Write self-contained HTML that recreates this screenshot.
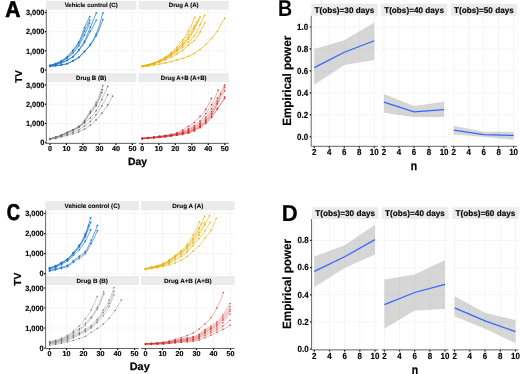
<!DOCTYPE html>
<html><head><meta charset="utf-8"><style>
html,body{margin:0;padding:0;background:#fff;}
body{width:520px;height:374px;overflow:hidden;}
svg{display:block;font-family:"Liberation Sans", sans-serif;filter:blur(0.35px);text-rendering:geometricPrecision;}
</style></head><body>
<svg width="520" height="374" viewBox="0 0 520 374">
<rect x="0" y="0" width="520" height="374" fill="#fff"/>
<rect x="46.00" y="0.80" width="90.40" height="8.90" fill="#EBEBEB"/>
<text x="91.20" y="7.40" font-size="6.05" text-anchor="middle" fill="#000" font-weight="bold" stroke="#000" stroke-width="0.08" >Vehicle control (C)</text>
<rect x="138.60" y="0.80" width="90.20" height="8.90" fill="#EBEBEB"/>
<text x="183.70" y="7.40" font-size="6.05" text-anchor="middle" fill="#000" font-weight="bold" stroke="#000" stroke-width="0.08" >Drug A (A)</text>
<rect x="46.00" y="73.20" width="90.40" height="8.90" fill="#EBEBEB"/>
<text x="91.20" y="79.80" font-size="6.05" text-anchor="middle" fill="#000" font-weight="bold" stroke="#000" stroke-width="0.08" >Drug B (B)</text>
<rect x="138.60" y="73.20" width="90.20" height="8.90" fill="#EBEBEB"/>
<text x="183.70" y="79.80" font-size="6.05" text-anchor="middle" fill="#000" font-weight="bold" stroke="#000" stroke-width="0.08" >Drug A+B (A+B)</text>
<line x1="49.90" y1="9.40" x2="49.90" y2="71.00" stroke="#F3F3F3" stroke-width="0.8"/>
<line x1="66.40" y1="9.40" x2="66.40" y2="71.00" stroke="#F3F3F3" stroke-width="0.8"/>
<line x1="82.90" y1="9.40" x2="82.90" y2="71.00" stroke="#F3F3F3" stroke-width="0.8"/>
<line x1="99.40" y1="9.40" x2="99.40" y2="71.00" stroke="#F3F3F3" stroke-width="0.8"/>
<line x1="115.90" y1="9.40" x2="115.90" y2="71.00" stroke="#F3F3F3" stroke-width="0.8"/>
<line x1="132.40" y1="9.40" x2="132.40" y2="71.00" stroke="#F3F3F3" stroke-width="0.8"/>
<line x1="46.00" y1="70.00" x2="136.40" y2="70.00" stroke="#F3F3F3" stroke-width="0.8"/>
<line x1="46.00" y1="50.83" x2="136.40" y2="50.83" stroke="#F3F3F3" stroke-width="0.8"/>
<line x1="46.00" y1="31.67" x2="136.40" y2="31.67" stroke="#F3F3F3" stroke-width="0.8"/>
<line x1="46.00" y1="12.50" x2="136.40" y2="12.50" stroke="#F3F3F3" stroke-width="0.8"/>
<line x1="142.30" y1="9.40" x2="142.30" y2="71.00" stroke="#F3F3F3" stroke-width="0.8"/>
<line x1="158.80" y1="9.40" x2="158.80" y2="71.00" stroke="#F3F3F3" stroke-width="0.8"/>
<line x1="175.30" y1="9.40" x2="175.30" y2="71.00" stroke="#F3F3F3" stroke-width="0.8"/>
<line x1="191.80" y1="9.40" x2="191.80" y2="71.00" stroke="#F3F3F3" stroke-width="0.8"/>
<line x1="208.30" y1="9.40" x2="208.30" y2="71.00" stroke="#F3F3F3" stroke-width="0.8"/>
<line x1="224.80" y1="9.40" x2="224.80" y2="71.00" stroke="#F3F3F3" stroke-width="0.8"/>
<line x1="138.60" y1="70.00" x2="228.80" y2="70.00" stroke="#F3F3F3" stroke-width="0.8"/>
<line x1="138.60" y1="50.83" x2="228.80" y2="50.83" stroke="#F3F3F3" stroke-width="0.8"/>
<line x1="138.60" y1="31.67" x2="228.80" y2="31.67" stroke="#F3F3F3" stroke-width="0.8"/>
<line x1="138.60" y1="12.50" x2="228.80" y2="12.50" stroke="#F3F3F3" stroke-width="0.8"/>
<line x1="49.90" y1="81.50" x2="49.90" y2="143.00" stroke="#F3F3F3" stroke-width="0.8"/>
<line x1="66.40" y1="81.50" x2="66.40" y2="143.00" stroke="#F3F3F3" stroke-width="0.8"/>
<line x1="82.90" y1="81.50" x2="82.90" y2="143.00" stroke="#F3F3F3" stroke-width="0.8"/>
<line x1="99.40" y1="81.50" x2="99.40" y2="143.00" stroke="#F3F3F3" stroke-width="0.8"/>
<line x1="115.90" y1="81.50" x2="115.90" y2="143.00" stroke="#F3F3F3" stroke-width="0.8"/>
<line x1="132.40" y1="81.50" x2="132.40" y2="143.00" stroke="#F3F3F3" stroke-width="0.8"/>
<line x1="46.00" y1="142.70" x2="136.40" y2="142.70" stroke="#F3F3F3" stroke-width="0.8"/>
<line x1="46.00" y1="123.47" x2="136.40" y2="123.47" stroke="#F3F3F3" stroke-width="0.8"/>
<line x1="46.00" y1="104.23" x2="136.40" y2="104.23" stroke="#F3F3F3" stroke-width="0.8"/>
<line x1="46.00" y1="85.00" x2="136.40" y2="85.00" stroke="#F3F3F3" stroke-width="0.8"/>
<line x1="142.30" y1="81.50" x2="142.30" y2="143.00" stroke="#F3F3F3" stroke-width="0.8"/>
<line x1="158.80" y1="81.50" x2="158.80" y2="143.00" stroke="#F3F3F3" stroke-width="0.8"/>
<line x1="175.30" y1="81.50" x2="175.30" y2="143.00" stroke="#F3F3F3" stroke-width="0.8"/>
<line x1="191.80" y1="81.50" x2="191.80" y2="143.00" stroke="#F3F3F3" stroke-width="0.8"/>
<line x1="208.30" y1="81.50" x2="208.30" y2="143.00" stroke="#F3F3F3" stroke-width="0.8"/>
<line x1="224.80" y1="81.50" x2="224.80" y2="143.00" stroke="#F3F3F3" stroke-width="0.8"/>
<line x1="138.60" y1="142.70" x2="228.80" y2="142.70" stroke="#F3F3F3" stroke-width="0.8"/>
<line x1="138.60" y1="123.47" x2="228.80" y2="123.47" stroke="#F3F3F3" stroke-width="0.8"/>
<line x1="138.60" y1="104.23" x2="228.80" y2="104.23" stroke="#F3F3F3" stroke-width="0.8"/>
<line x1="138.60" y1="85.00" x2="228.80" y2="85.00" stroke="#F3F3F3" stroke-width="0.8"/>
<polyline points="49.9,65.5 51.5,65.0 53.2,64.5 54.8,63.8 56.5,63.2 58.1,62.4 59.8,61.6 61.4,60.7 63.1,59.6 64.8,58.5 66.4,57.2 68.0,55.7 69.7,54.0 71.3,52.2 73.0,50.1 74.7,48.0 76.3,45.8 77.9,43.3 79.6,40.4 81.2,36.7 82.9,32.1 84.5,27.6 86.2,23.9 87.8,20.5 89.5,17.0 89.7,16.6" fill="none" stroke="#1874CD" stroke-width="0.9" stroke-opacity="0.8"/>
<circle cx="49.9" cy="65.5" r="0.85" fill="#1874CD" fill-opacity="0.9"/>
<circle cx="55.7" cy="63.5" r="0.85" fill="#1874CD" fill-opacity="0.9"/>
<circle cx="61.4" cy="60.7" r="0.85" fill="#1874CD" fill-opacity="0.9"/>
<circle cx="67.2" cy="56.5" r="0.85" fill="#1874CD" fill-opacity="0.9"/>
<circle cx="73.0" cy="50.1" r="0.85" fill="#1874CD" fill-opacity="0.9"/>
<circle cx="78.8" cy="41.9" r="0.85" fill="#1874CD" fill-opacity="0.9"/>
<circle cx="84.5" cy="27.6" r="0.85" fill="#1874CD" fill-opacity="0.9"/>
<circle cx="89.7" cy="16.6" r="0.85" fill="#1874CD" fill-opacity="0.9"/>
<polyline points="49.9,65.9 51.5,65.4 53.2,64.9 54.8,64.3 56.5,63.7 58.1,63.0 59.8,62.2 61.4,61.3 63.1,60.3 64.8,59.2 66.4,58.0 68.0,56.6 69.7,55.0 71.3,53.2 73.0,51.2 74.7,49.2 76.3,47.0 77.9,44.6 79.6,41.9 81.2,38.7 82.9,34.9 84.5,31.1 86.2,27.6 87.8,24.2 89.5,20.6 89.7,20.2" fill="none" stroke="#1874CD" stroke-width="0.9" stroke-opacity="0.8"/>
<circle cx="49.9" cy="65.9" r="0.85" fill="#1874CD" fill-opacity="0.9"/>
<circle cx="55.7" cy="64.0" r="0.85" fill="#1874CD" fill-opacity="0.9"/>
<circle cx="61.4" cy="61.3" r="0.85" fill="#1874CD" fill-opacity="0.9"/>
<circle cx="67.2" cy="57.3" r="0.85" fill="#1874CD" fill-opacity="0.9"/>
<circle cx="73.0" cy="51.2" r="0.85" fill="#1874CD" fill-opacity="0.9"/>
<circle cx="78.8" cy="43.3" r="0.85" fill="#1874CD" fill-opacity="0.9"/>
<circle cx="84.5" cy="31.1" r="0.85" fill="#1874CD" fill-opacity="0.9"/>
<circle cx="89.7" cy="20.2" r="0.85" fill="#1874CD" fill-opacity="0.9"/>
<polyline points="49.9,65.7 51.5,65.3 53.2,65.0 54.8,64.5 56.5,64.1 58.1,63.6 59.8,63.1 61.4,62.6 63.1,61.9 64.8,61.2 66.4,60.5 68.0,59.6 69.7,58.6 71.3,57.6 73.0,56.3 74.7,54.8 76.3,52.9 77.9,50.8 79.6,48.5 81.2,46.3 82.9,43.9 84.5,41.2 86.2,37.7 87.8,33.5 89.5,29.2 91.2,25.3 92.8,21.5 94.4,17.6 96.1,13.4 96.3,12.9" fill="none" stroke="#1874CD" stroke-width="0.9" stroke-opacity="0.8"/>
<circle cx="49.9" cy="65.7" r="0.85" fill="#1874CD" fill-opacity="0.9"/>
<circle cx="55.7" cy="64.3" r="0.85" fill="#1874CD" fill-opacity="0.9"/>
<circle cx="61.4" cy="62.6" r="0.85" fill="#1874CD" fill-opacity="0.9"/>
<circle cx="67.2" cy="60.0" r="0.85" fill="#1874CD" fill-opacity="0.9"/>
<circle cx="73.0" cy="56.3" r="0.85" fill="#1874CD" fill-opacity="0.9"/>
<circle cx="78.8" cy="49.7" r="0.85" fill="#1874CD" fill-opacity="0.9"/>
<circle cx="84.5" cy="41.2" r="0.85" fill="#1874CD" fill-opacity="0.9"/>
<circle cx="90.3" cy="27.2" r="0.85" fill="#1874CD" fill-opacity="0.9"/>
<circle cx="96.3" cy="12.9" r="0.85" fill="#1874CD" fill-opacity="0.9"/>
<polyline points="49.9,66.1 51.5,65.7 53.2,65.4 54.8,65.0 56.5,64.5 58.1,64.1 59.8,63.6 61.4,63.0 63.1,62.4 64.8,61.7 66.4,61.0 68.0,60.1 69.7,59.2 71.3,58.1 73.0,56.9 74.7,55.4 76.3,53.6 77.9,51.6 79.6,49.5 81.2,47.3 82.9,45.0 84.5,42.5 86.2,39.5 87.8,36.3 89.5,32.9 91.2,29.9 92.8,26.9 94.4,23.8 96.1,20.5 96.3,20.1" fill="none" stroke="#1874CD" stroke-width="0.9" stroke-opacity="0.8"/>
<circle cx="49.9" cy="66.1" r="0.85" fill="#1874CD" fill-opacity="0.9"/>
<circle cx="55.7" cy="64.8" r="0.85" fill="#1874CD" fill-opacity="0.9"/>
<circle cx="61.4" cy="63.0" r="0.85" fill="#1874CD" fill-opacity="0.9"/>
<circle cx="67.2" cy="60.5" r="0.85" fill="#1874CD" fill-opacity="0.9"/>
<circle cx="73.0" cy="56.9" r="0.85" fill="#1874CD" fill-opacity="0.9"/>
<circle cx="78.8" cy="50.6" r="0.85" fill="#1874CD" fill-opacity="0.9"/>
<circle cx="84.5" cy="42.5" r="0.85" fill="#1874CD" fill-opacity="0.9"/>
<circle cx="90.3" cy="31.4" r="0.85" fill="#1874CD" fill-opacity="0.9"/>
<circle cx="96.3" cy="20.1" r="0.85" fill="#1874CD" fill-opacity="0.9"/>
<polyline points="49.9,66.3 51.5,66.1 53.2,65.9 54.8,65.7 56.5,65.5 58.1,65.3 59.8,65.1 61.4,64.8 63.1,64.5 64.8,64.2 66.4,63.8 68.0,63.3 69.7,62.5 71.3,61.6 73.0,60.7 74.7,59.8 76.3,58.8 77.9,57.8 79.6,56.5 81.2,55.0 82.9,53.1 84.5,51.2 86.2,49.4 87.8,47.6 89.5,45.5 91.2,43.2 92.8,40.6 94.4,37.6 96.1,34.2 97.8,30.1 99.4,25.3 101.0,19.7 102.7,13.6 102.9,12.9" fill="none" stroke="#1874CD" stroke-width="0.9" stroke-opacity="0.8"/>
<circle cx="49.9" cy="66.3" r="0.85" fill="#1874CD" fill-opacity="0.9"/>
<circle cx="55.7" cy="65.6" r="0.85" fill="#1874CD" fill-opacity="0.9"/>
<circle cx="61.4" cy="64.8" r="0.85" fill="#1874CD" fill-opacity="0.9"/>
<circle cx="67.2" cy="63.5" r="0.85" fill="#1874CD" fill-opacity="0.9"/>
<circle cx="73.0" cy="60.7" r="0.85" fill="#1874CD" fill-opacity="0.9"/>
<circle cx="78.8" cy="57.2" r="0.85" fill="#1874CD" fill-opacity="0.9"/>
<circle cx="84.5" cy="51.2" r="0.85" fill="#1874CD" fill-opacity="0.9"/>
<circle cx="90.3" cy="44.4" r="0.85" fill="#1874CD" fill-opacity="0.9"/>
<circle cx="96.1" cy="34.2" r="0.85" fill="#1874CD" fill-opacity="0.9"/>
<circle cx="102.9" cy="12.9" r="0.85" fill="#1874CD" fill-opacity="0.9"/>
<polyline points="49.9,66.5 51.5,66.3 53.2,66.1 54.8,65.9 56.5,65.7 58.1,65.5 59.8,65.2 61.4,65.0 63.1,64.7 64.8,64.4 66.4,64.0 68.0,63.4 69.7,62.7 71.3,61.9 73.0,61.0 74.7,60.1 76.3,59.1 77.9,58.1 79.6,56.9 81.2,55.4 82.9,53.6 84.5,51.8 86.2,50.0 87.8,48.2 89.5,46.3 91.2,44.0 92.8,41.6 94.4,38.8 96.1,35.8 97.8,32.5 99.4,28.7 101.0,24.5 102.7,20.0 102.9,19.5" fill="none" stroke="#1874CD" stroke-width="0.9" stroke-opacity="0.8"/>
<circle cx="49.9" cy="66.5" r="0.85" fill="#1874CD" fill-opacity="0.9"/>
<circle cx="55.7" cy="65.8" r="0.85" fill="#1874CD" fill-opacity="0.9"/>
<circle cx="61.4" cy="65.0" r="0.85" fill="#1874CD" fill-opacity="0.9"/>
<circle cx="67.2" cy="63.7" r="0.85" fill="#1874CD" fill-opacity="0.9"/>
<circle cx="73.0" cy="61.0" r="0.85" fill="#1874CD" fill-opacity="0.9"/>
<circle cx="78.8" cy="57.5" r="0.85" fill="#1874CD" fill-opacity="0.9"/>
<circle cx="84.5" cy="51.8" r="0.85" fill="#1874CD" fill-opacity="0.9"/>
<circle cx="90.3" cy="45.2" r="0.85" fill="#1874CD" fill-opacity="0.9"/>
<circle cx="96.1" cy="35.8" r="0.85" fill="#1874CD" fill-opacity="0.9"/>
<circle cx="102.9" cy="19.5" r="0.85" fill="#1874CD" fill-opacity="0.9"/>
<polyline points="49.9,65.3 51.5,64.9 53.2,64.4 54.8,63.9 56.5,63.4 58.1,62.8 59.8,62.1 61.4,61.4 63.1,60.6 64.8,59.7 66.4,58.7 68.0,57.6 69.7,56.3 71.3,54.8 73.0,53.1 74.7,51.3 76.3,49.2 77.9,46.9 79.6,44.4 81.2,41.5 82.9,38.3 84.5,34.9 86.2,31.3 87.8,27.6 89.5,23.5 89.7,23.0" fill="none" stroke="#1874CD" stroke-width="0.9" stroke-opacity="0.8"/>
<circle cx="49.9" cy="65.3" r="0.85" fill="#1874CD" fill-opacity="0.9"/>
<circle cx="55.7" cy="63.7" r="0.85" fill="#1874CD" fill-opacity="0.9"/>
<circle cx="61.4" cy="61.4" r="0.85" fill="#1874CD" fill-opacity="0.9"/>
<circle cx="67.2" cy="58.2" r="0.85" fill="#1874CD" fill-opacity="0.9"/>
<circle cx="73.0" cy="53.1" r="0.85" fill="#1874CD" fill-opacity="0.9"/>
<circle cx="78.8" cy="45.7" r="0.85" fill="#1874CD" fill-opacity="0.9"/>
<circle cx="84.5" cy="34.9" r="0.85" fill="#1874CD" fill-opacity="0.9"/>
<circle cx="89.7" cy="23.0" r="0.85" fill="#1874CD" fill-opacity="0.9"/>
<polyline points="142.3,66.2 144.0,65.8 145.6,65.4 147.2,65.0 148.9,64.6 150.6,64.1 152.2,63.5 153.9,62.9 155.5,62.3 157.2,61.6 158.8,60.8 160.5,60.0 162.1,59.1 163.8,58.1 165.4,57.0 167.1,55.9 168.7,54.7 170.4,53.3 172.0,51.9 173.7,50.4 175.3,48.7 177.0,47.0 178.6,45.1 180.2,43.2 181.9,41.0 183.6,38.8 185.2,36.4 186.9,33.8 188.5,31.0 190.2,27.9 191.8,24.4 193.5,20.6 194.8,17.4" fill="none" stroke="#E9B50C" stroke-width="0.9" stroke-opacity="0.8"/>
<circle cx="142.3" cy="66.2" r="0.85" fill="#E9B50C" fill-opacity="0.9"/>
<circle cx="148.1" cy="64.8" r="0.85" fill="#E9B50C" fill-opacity="0.9"/>
<circle cx="153.9" cy="62.9" r="0.85" fill="#E9B50C" fill-opacity="0.9"/>
<circle cx="159.6" cy="60.4" r="0.85" fill="#E9B50C" fill-opacity="0.9"/>
<circle cx="165.4" cy="57.0" r="0.85" fill="#E9B50C" fill-opacity="0.9"/>
<circle cx="171.2" cy="52.6" r="0.85" fill="#E9B50C" fill-opacity="0.9"/>
<circle cx="177.0" cy="47.0" r="0.85" fill="#E9B50C" fill-opacity="0.9"/>
<circle cx="182.7" cy="39.9" r="0.85" fill="#E9B50C" fill-opacity="0.9"/>
<circle cx="188.5" cy="31.0" r="0.85" fill="#E9B50C" fill-opacity="0.9"/>
<circle cx="194.8" cy="17.4" r="0.85" fill="#E9B50C" fill-opacity="0.9"/>
<polyline points="142.3,66.4 144.0,66.0 145.6,65.7 147.2,65.3 148.9,64.9 150.6,64.4 152.2,63.9 153.9,63.3 155.5,62.7 157.2,62.0 158.8,61.3 160.5,60.5 162.1,59.7 163.8,58.8 165.4,57.8 167.1,56.8 168.7,55.7 170.4,54.6 172.0,53.4 173.7,52.1 175.3,50.8 177.0,49.5 178.6,48.1 180.2,46.7 181.9,45.2 183.6,43.8 185.2,42.4 186.9,40.9 188.5,39.1 190.2,36.8 191.8,34.0 193.5,30.8 195.1,27.4 196.8,24.1 198.4,20.6 200.1,16.9" fill="none" stroke="#E9B50C" stroke-width="0.9" stroke-opacity="0.8"/>
<circle cx="142.3" cy="66.4" r="0.85" fill="#E9B50C" fill-opacity="0.9"/>
<circle cx="148.1" cy="65.1" r="0.85" fill="#E9B50C" fill-opacity="0.9"/>
<circle cx="153.9" cy="63.3" r="0.85" fill="#E9B50C" fill-opacity="0.9"/>
<circle cx="159.6" cy="60.9" r="0.85" fill="#E9B50C" fill-opacity="0.9"/>
<circle cx="165.4" cy="57.8" r="0.85" fill="#E9B50C" fill-opacity="0.9"/>
<circle cx="171.2" cy="54.0" r="0.85" fill="#E9B50C" fill-opacity="0.9"/>
<circle cx="177.0" cy="49.5" r="0.85" fill="#E9B50C" fill-opacity="0.9"/>
<circle cx="182.7" cy="44.5" r="0.85" fill="#E9B50C" fill-opacity="0.9"/>
<circle cx="188.5" cy="39.1" r="0.85" fill="#E9B50C" fill-opacity="0.9"/>
<circle cx="194.3" cy="29.1" r="0.85" fill="#E9B50C" fill-opacity="0.9"/>
<circle cx="200.1" cy="16.9" r="0.85" fill="#E9B50C" fill-opacity="0.9"/>
<polyline points="142.3,66.0 144.0,65.7 145.6,65.3 147.2,65.0 148.9,64.6 150.6,64.1 152.2,63.7 153.9,63.2 155.5,62.6 157.2,62.1 158.8,61.4 160.5,60.8 162.1,60.1 163.8,59.3 165.4,58.5 167.1,57.7 168.7,56.8 170.4,55.9 172.0,54.9 173.7,53.8 175.3,52.8 177.0,51.7 178.6,50.6 180.2,49.4 181.9,48.1 183.6,46.7 185.2,45.3 186.9,43.8 188.5,42.2 190.2,40.5 191.8,38.8 193.5,36.9 195.1,34.7 196.8,31.8 198.4,28.2 200.1,24.4 201.7,21.2 203.4,18.1 204.8,15.1" fill="none" stroke="#E9B50C" stroke-width="0.9" stroke-opacity="0.8"/>
<circle cx="142.3" cy="66.0" r="0.85" fill="#E9B50C" fill-opacity="0.9"/>
<circle cx="148.1" cy="64.8" r="0.85" fill="#E9B50C" fill-opacity="0.9"/>
<circle cx="153.9" cy="63.2" r="0.85" fill="#E9B50C" fill-opacity="0.9"/>
<circle cx="159.6" cy="61.1" r="0.85" fill="#E9B50C" fill-opacity="0.9"/>
<circle cx="165.4" cy="58.5" r="0.85" fill="#E9B50C" fill-opacity="0.9"/>
<circle cx="171.2" cy="55.4" r="0.85" fill="#E9B50C" fill-opacity="0.9"/>
<circle cx="177.0" cy="51.7" r="0.85" fill="#E9B50C" fill-opacity="0.9"/>
<circle cx="182.7" cy="47.4" r="0.85" fill="#E9B50C" fill-opacity="0.9"/>
<circle cx="188.5" cy="42.2" r="0.85" fill="#E9B50C" fill-opacity="0.9"/>
<circle cx="194.3" cy="35.8" r="0.85" fill="#E9B50C" fill-opacity="0.9"/>
<circle cx="200.1" cy="24.4" r="0.85" fill="#E9B50C" fill-opacity="0.9"/>
<circle cx="204.8" cy="15.1" r="0.85" fill="#E9B50C" fill-opacity="0.9"/>
<polyline points="142.3,66.5 144.0,66.3 145.6,66.0 147.2,65.7 148.9,65.3 150.6,64.9 152.2,64.5 153.9,64.1 155.5,63.6 157.2,63.1 158.8,62.6 160.5,62.0 162.1,61.3 163.8,60.7 165.4,60.0 167.1,59.2 168.7,58.4 170.4,57.6 172.0,56.8 173.7,55.9 175.3,55.0 177.0,54.1 178.6,53.1 180.2,52.1 181.9,51.0 183.6,49.6 185.2,48.1 186.9,46.6 188.5,45.1 190.2,43.8 191.8,42.6 193.5,41.3 195.1,39.7 196.8,37.5 198.4,34.8 200.1,31.9 201.7,28.9 203.4,25.6 204.8,22.4" fill="none" stroke="#E9B50C" stroke-width="0.9" stroke-opacity="0.8"/>
<circle cx="142.3" cy="66.5" r="0.85" fill="#E9B50C" fill-opacity="0.9"/>
<circle cx="148.1" cy="65.5" r="0.85" fill="#E9B50C" fill-opacity="0.9"/>
<circle cx="153.9" cy="64.1" r="0.85" fill="#E9B50C" fill-opacity="0.9"/>
<circle cx="159.6" cy="62.3" r="0.85" fill="#E9B50C" fill-opacity="0.9"/>
<circle cx="165.4" cy="60.0" r="0.85" fill="#E9B50C" fill-opacity="0.9"/>
<circle cx="171.2" cy="57.2" r="0.85" fill="#E9B50C" fill-opacity="0.9"/>
<circle cx="177.0" cy="54.1" r="0.85" fill="#E9B50C" fill-opacity="0.9"/>
<circle cx="182.7" cy="50.3" r="0.85" fill="#E9B50C" fill-opacity="0.9"/>
<circle cx="188.5" cy="45.1" r="0.85" fill="#E9B50C" fill-opacity="0.9"/>
<circle cx="194.3" cy="40.5" r="0.85" fill="#E9B50C" fill-opacity="0.9"/>
<circle cx="200.1" cy="31.9" r="0.85" fill="#E9B50C" fill-opacity="0.9"/>
<circle cx="204.8" cy="22.4" r="0.85" fill="#E9B50C" fill-opacity="0.9"/>
<polyline points="142.3,66.7 144.0,66.6 145.6,66.4 147.2,66.2 148.9,65.9 150.6,65.7 152.2,65.4 153.9,65.2 155.5,64.9 157.2,64.6 158.8,64.3 160.5,64.0 162.1,63.6 163.8,63.3 165.4,62.9 167.1,62.5 168.7,62.1 170.4,61.7 172.0,61.2 173.7,60.8 175.3,60.4 177.0,59.9 178.6,59.5 180.2,59.0 181.9,58.6 183.6,58.1 185.2,57.5 186.9,56.9 188.5,56.3 190.2,55.6 191.8,54.8 193.5,53.9 195.1,52.9 196.8,51.8 198.4,50.7 200.1,49.5 201.7,48.1 203.4,46.6 205.0,45.1 206.7,43.5 208.3,41.9 209.9,40.2 211.6,38.3 213.2,36.4 214.9,34.4 216.6,32.3 218.2,29.9 219.9,27.0 221.5,23.7 223.2,20.7 224.8,18.1" fill="none" stroke="#E9B50C" stroke-width="0.9" stroke-opacity="0.8"/>
<circle cx="142.3" cy="66.7" r="0.85" fill="#E9B50C" fill-opacity="0.9"/>
<circle cx="148.1" cy="66.0" r="0.85" fill="#E9B50C" fill-opacity="0.9"/>
<circle cx="153.9" cy="65.2" r="0.85" fill="#E9B50C" fill-opacity="0.9"/>
<circle cx="159.6" cy="64.1" r="0.85" fill="#E9B50C" fill-opacity="0.9"/>
<circle cx="165.4" cy="62.9" r="0.85" fill="#E9B50C" fill-opacity="0.9"/>
<circle cx="171.2" cy="61.5" r="0.85" fill="#E9B50C" fill-opacity="0.9"/>
<circle cx="177.0" cy="59.9" r="0.85" fill="#E9B50C" fill-opacity="0.9"/>
<circle cx="182.7" cy="58.3" r="0.85" fill="#E9B50C" fill-opacity="0.9"/>
<circle cx="188.5" cy="56.3" r="0.85" fill="#E9B50C" fill-opacity="0.9"/>
<circle cx="194.3" cy="53.4" r="0.85" fill="#E9B50C" fill-opacity="0.9"/>
<circle cx="200.1" cy="49.5" r="0.85" fill="#E9B50C" fill-opacity="0.9"/>
<circle cx="205.8" cy="44.3" r="0.85" fill="#E9B50C" fill-opacity="0.9"/>
<circle cx="211.6" cy="38.3" r="0.85" fill="#E9B50C" fill-opacity="0.9"/>
<circle cx="217.4" cy="31.1" r="0.85" fill="#E9B50C" fill-opacity="0.9"/>
<circle cx="224.8" cy="18.1" r="0.85" fill="#E9B50C" fill-opacity="0.9"/>
<polyline points="142.3,65.8 144.0,65.5 145.6,65.1 147.2,64.8 148.9,64.4 150.6,63.9 152.2,63.5 153.9,63.0 155.5,62.5 157.2,61.9 158.8,61.3 160.5,60.6 162.1,59.9 163.8,59.2 165.4,58.4 167.1,57.5 168.7,56.6 170.4,55.6 172.0,54.5 173.7,53.4 175.3,52.1 177.0,50.8 178.6,49.4 180.2,47.9 181.9,46.2 183.6,44.3 185.2,42.2 186.9,39.8 188.5,37.4 190.2,35.0 191.8,32.4 193.5,29.7 195.1,26.8 196.8,23.6 198.4,20.2" fill="none" stroke="#E9B50C" stroke-width="0.9" stroke-opacity="0.8"/>
<circle cx="142.3" cy="65.8" r="0.85" fill="#E9B50C" fill-opacity="0.9"/>
<circle cx="148.1" cy="64.6" r="0.85" fill="#E9B50C" fill-opacity="0.9"/>
<circle cx="153.9" cy="63.0" r="0.85" fill="#E9B50C" fill-opacity="0.9"/>
<circle cx="159.6" cy="61.0" r="0.85" fill="#E9B50C" fill-opacity="0.9"/>
<circle cx="165.4" cy="58.4" r="0.85" fill="#E9B50C" fill-opacity="0.9"/>
<circle cx="171.2" cy="55.1" r="0.85" fill="#E9B50C" fill-opacity="0.9"/>
<circle cx="177.0" cy="50.8" r="0.85" fill="#E9B50C" fill-opacity="0.9"/>
<circle cx="182.7" cy="45.3" r="0.85" fill="#E9B50C" fill-opacity="0.9"/>
<circle cx="188.5" cy="37.4" r="0.85" fill="#E9B50C" fill-opacity="0.9"/>
<circle cx="194.3" cy="28.3" r="0.85" fill="#E9B50C" fill-opacity="0.9"/>
<circle cx="198.4" cy="20.2" r="0.85" fill="#E9B50C" fill-opacity="0.9"/>
<polyline points="142.3,66.2 144.0,65.8 145.6,65.5 147.2,65.1 148.9,64.6 150.6,64.2 152.2,63.7 153.9,63.1 155.5,62.5 157.2,61.8 158.8,61.1 160.5,60.3 162.1,59.5 163.8,58.6 165.4,57.6 167.1,56.6 168.7,55.5 170.4,54.3 172.0,53.0 173.7,51.7 175.3,50.3 177.0,48.8 178.6,47.3 180.2,45.6 181.9,43.7 183.6,41.7 185.2,39.4 186.9,37.0 188.5,34.5 190.2,32.2 191.8,29.8 193.5,27.4 195.1,24.8 196.8,22.1" fill="none" stroke="#E9B50C" stroke-width="0.9" stroke-opacity="0.8"/>
<circle cx="142.3" cy="66.2" r="0.85" fill="#E9B50C" fill-opacity="0.9"/>
<circle cx="148.1" cy="64.9" r="0.85" fill="#E9B50C" fill-opacity="0.9"/>
<circle cx="153.9" cy="63.1" r="0.85" fill="#E9B50C" fill-opacity="0.9"/>
<circle cx="159.6" cy="60.7" r="0.85" fill="#E9B50C" fill-opacity="0.9"/>
<circle cx="165.4" cy="57.6" r="0.85" fill="#E9B50C" fill-opacity="0.9"/>
<circle cx="171.2" cy="53.7" r="0.85" fill="#E9B50C" fill-opacity="0.9"/>
<circle cx="177.0" cy="48.8" r="0.85" fill="#E9B50C" fill-opacity="0.9"/>
<circle cx="182.7" cy="42.7" r="0.85" fill="#E9B50C" fill-opacity="0.9"/>
<circle cx="188.5" cy="34.5" r="0.85" fill="#E9B50C" fill-opacity="0.9"/>
<circle cx="194.3" cy="26.1" r="0.85" fill="#E9B50C" fill-opacity="0.9"/>
<circle cx="196.8" cy="22.1" r="0.85" fill="#E9B50C" fill-opacity="0.9"/>
<polyline points="49.9,138.7 51.5,138.3 53.2,137.8 54.8,137.4 56.5,136.8 58.1,136.3 59.8,135.6 61.4,135.0 63.1,134.2 64.8,133.5 66.4,132.7 68.0,131.9 69.7,131.1 71.3,130.3 73.0,129.5 74.7,128.6 76.3,127.7 77.9,126.6 79.6,125.4 81.2,124.1 82.9,122.5 84.5,120.4 86.2,117.9 87.8,115.0 89.5,112.3 91.2,109.9 92.8,107.7 94.4,105.4 96.1,102.6 97.8,99.2 99.4,95.2 101.0,90.6 102.7,85.6" fill="none" stroke="#6e6e6e" stroke-width="0.7" stroke-opacity="0.6"/>
<circle cx="49.9" cy="138.7" r="0.85" fill="#6e6e6e" fill-opacity="0.9"/>
<circle cx="55.7" cy="137.1" r="0.85" fill="#6e6e6e" fill-opacity="0.9"/>
<circle cx="61.4" cy="135.0" r="0.85" fill="#6e6e6e" fill-opacity="0.9"/>
<circle cx="67.2" cy="132.3" r="0.85" fill="#6e6e6e" fill-opacity="0.9"/>
<circle cx="73.0" cy="129.5" r="0.85" fill="#6e6e6e" fill-opacity="0.9"/>
<circle cx="78.8" cy="126.1" r="0.85" fill="#6e6e6e" fill-opacity="0.9"/>
<circle cx="84.5" cy="120.4" r="0.85" fill="#6e6e6e" fill-opacity="0.9"/>
<circle cx="90.3" cy="111.1" r="0.85" fill="#6e6e6e" fill-opacity="0.9"/>
<circle cx="96.1" cy="102.6" r="0.85" fill="#6e6e6e" fill-opacity="0.9"/>
<circle cx="102.7" cy="85.6" r="0.85" fill="#6e6e6e" fill-opacity="0.9"/>
<polyline points="49.9,138.5 51.5,138.1 53.2,137.7 54.8,137.2 56.5,136.7 58.1,136.2 59.8,135.6 61.4,135.0 63.1,134.3 64.8,133.6 66.4,132.9 68.0,132.2 69.7,131.4 71.3,130.7 73.0,129.9 74.7,129.1 76.3,128.3 77.9,127.3 79.6,126.2 81.2,125.0 82.9,123.5 84.5,121.5 86.2,119.0 87.8,116.2 89.5,113.6 91.2,111.4 92.8,109.4 94.4,107.3 96.1,104.8 97.8,101.6 99.4,97.8 101.0,93.4 102.4,89.7" fill="none" stroke="#6e6e6e" stroke-width="0.7" stroke-opacity="0.6"/>
<circle cx="49.9" cy="138.5" r="0.85" fill="#6e6e6e" fill-opacity="0.9"/>
<circle cx="55.7" cy="137.0" r="0.85" fill="#6e6e6e" fill-opacity="0.9"/>
<circle cx="61.4" cy="135.0" r="0.85" fill="#6e6e6e" fill-opacity="0.9"/>
<circle cx="67.2" cy="132.5" r="0.85" fill="#6e6e6e" fill-opacity="0.9"/>
<circle cx="73.0" cy="129.9" r="0.85" fill="#6e6e6e" fill-opacity="0.9"/>
<circle cx="78.8" cy="126.8" r="0.85" fill="#6e6e6e" fill-opacity="0.9"/>
<circle cx="84.5" cy="121.5" r="0.85" fill="#6e6e6e" fill-opacity="0.9"/>
<circle cx="90.3" cy="112.5" r="0.85" fill="#6e6e6e" fill-opacity="0.9"/>
<circle cx="96.1" cy="104.8" r="0.85" fill="#6e6e6e" fill-opacity="0.9"/>
<circle cx="102.4" cy="89.7" r="0.85" fill="#6e6e6e" fill-opacity="0.9"/>
<polyline points="49.9,138.9 51.5,138.5 53.2,138.1 54.8,137.6 56.5,137.1 58.1,136.5 59.8,135.9 61.4,135.2 63.1,134.5 64.8,133.8 66.4,133.1 68.0,132.3 69.7,131.6 71.3,130.9 73.0,130.1 74.7,129.3 76.3,128.5 77.9,127.6 79.6,126.5 81.2,125.3 82.9,123.9 84.5,122.0 86.2,119.6 87.8,117.0 89.5,114.6 91.2,112.4 92.8,110.4 94.4,108.2 96.1,105.8 97.8,102.7 99.4,99.0 101.0,94.8 101.9,92.7" fill="none" stroke="#6e6e6e" stroke-width="0.7" stroke-opacity="0.6"/>
<circle cx="49.9" cy="138.9" r="0.85" fill="#6e6e6e" fill-opacity="0.9"/>
<circle cx="55.7" cy="137.3" r="0.85" fill="#6e6e6e" fill-opacity="0.9"/>
<circle cx="61.4" cy="135.2" r="0.85" fill="#6e6e6e" fill-opacity="0.9"/>
<circle cx="67.2" cy="132.7" r="0.85" fill="#6e6e6e" fill-opacity="0.9"/>
<circle cx="73.0" cy="130.1" r="0.85" fill="#6e6e6e" fill-opacity="0.9"/>
<circle cx="78.8" cy="127.0" r="0.85" fill="#6e6e6e" fill-opacity="0.9"/>
<circle cx="84.5" cy="122.0" r="0.85" fill="#6e6e6e" fill-opacity="0.9"/>
<circle cx="90.3" cy="113.5" r="0.85" fill="#6e6e6e" fill-opacity="0.9"/>
<circle cx="96.1" cy="105.8" r="0.85" fill="#6e6e6e" fill-opacity="0.9"/>
<circle cx="101.9" cy="92.7" r="0.85" fill="#6e6e6e" fill-opacity="0.9"/>
<polyline points="49.9,138.9 51.5,138.5 53.2,138.1 54.8,137.7 56.5,137.2 58.1,136.7 59.8,136.1 61.4,135.5 63.1,134.8 64.8,134.2 66.4,133.5 68.0,132.7 69.7,132.0 71.3,131.2 73.0,130.4 74.7,129.6 76.3,128.7 77.9,127.8 79.6,126.7 81.2,125.6 82.9,124.4 84.5,123.1 86.2,121.8 87.8,120.3 89.5,118.7 91.2,117.0 92.8,115.1 94.4,113.0 96.1,110.7 97.8,108.0 99.4,104.8 101.0,101.4 102.7,97.8 104.3,94.2 106.0,90.5 107.7,86.4" fill="none" stroke="#6e6e6e" stroke-width="0.7" stroke-opacity="0.6"/>
<circle cx="49.9" cy="138.9" r="0.85" fill="#6e6e6e" fill-opacity="0.9"/>
<circle cx="55.7" cy="137.4" r="0.85" fill="#6e6e6e" fill-opacity="0.9"/>
<circle cx="61.4" cy="135.5" r="0.85" fill="#6e6e6e" fill-opacity="0.9"/>
<circle cx="67.2" cy="133.1" r="0.85" fill="#6e6e6e" fill-opacity="0.9"/>
<circle cx="73.0" cy="130.4" r="0.85" fill="#6e6e6e" fill-opacity="0.9"/>
<circle cx="78.8" cy="127.3" r="0.85" fill="#6e6e6e" fill-opacity="0.9"/>
<circle cx="84.5" cy="123.1" r="0.85" fill="#6e6e6e" fill-opacity="0.9"/>
<circle cx="90.3" cy="117.9" r="0.85" fill="#6e6e6e" fill-opacity="0.9"/>
<circle cx="96.1" cy="110.7" r="0.85" fill="#6e6e6e" fill-opacity="0.9"/>
<circle cx="101.9" cy="99.6" r="0.85" fill="#6e6e6e" fill-opacity="0.9"/>
<circle cx="107.7" cy="86.4" r="0.85" fill="#6e6e6e" fill-opacity="0.9"/>
<polyline points="49.9,139.0 51.5,138.7 53.2,138.4 54.8,138.0 56.5,137.6 58.1,137.2 59.8,136.7 61.4,136.3 63.1,135.7 64.8,135.2 66.4,134.6 68.0,134.0 69.7,133.4 71.3,132.8 73.0,132.2 74.7,131.5 76.3,130.8 77.9,130.1 79.6,129.2 81.2,128.3 82.9,127.3 84.5,126.2 86.2,125.0 87.8,123.6 89.5,122.1 91.2,120.5 92.8,118.7 94.4,116.8 96.1,114.7 97.8,112.4 99.4,109.9 101.0,107.2 102.7,104.3 104.3,101.3 106.0,98.1 107.7,94.7" fill="none" stroke="#6e6e6e" stroke-width="0.7" stroke-opacity="0.6"/>
<circle cx="49.9" cy="139.0" r="0.85" fill="#6e6e6e" fill-opacity="0.9"/>
<circle cx="55.7" cy="137.8" r="0.85" fill="#6e6e6e" fill-opacity="0.9"/>
<circle cx="61.4" cy="136.3" r="0.85" fill="#6e6e6e" fill-opacity="0.9"/>
<circle cx="67.2" cy="134.3" r="0.85" fill="#6e6e6e" fill-opacity="0.9"/>
<circle cx="73.0" cy="132.2" r="0.85" fill="#6e6e6e" fill-opacity="0.9"/>
<circle cx="78.8" cy="129.7" r="0.85" fill="#6e6e6e" fill-opacity="0.9"/>
<circle cx="84.5" cy="126.2" r="0.85" fill="#6e6e6e" fill-opacity="0.9"/>
<circle cx="90.3" cy="121.3" r="0.85" fill="#6e6e6e" fill-opacity="0.9"/>
<circle cx="96.1" cy="114.7" r="0.85" fill="#6e6e6e" fill-opacity="0.9"/>
<circle cx="101.9" cy="105.8" r="0.85" fill="#6e6e6e" fill-opacity="0.9"/>
<circle cx="107.7" cy="94.7" r="0.85" fill="#6e6e6e" fill-opacity="0.9"/>
<polyline points="49.9,139.4 51.5,139.2 53.2,138.9 54.8,138.6 56.5,138.2 58.1,137.8 59.8,137.4 61.4,137.0 63.1,136.6 64.8,136.1 66.4,135.6 68.0,135.2 69.7,134.7 71.3,134.2 73.0,133.7 74.7,133.2 76.3,132.7 77.9,132.1 79.6,131.5 81.2,130.8 82.9,130.0 84.5,129.1 86.2,128.1 87.8,127.0 89.5,125.8 91.2,124.5 92.8,123.0 94.4,121.5 96.1,119.9 97.8,118.1 99.4,116.3 101.0,114.3 102.7,112.1 104.3,109.9 106.0,107.5 107.7,104.9 109.3,102.2 110.9,99.3 112.6,96.1" fill="none" stroke="#6e6e6e" stroke-width="0.7" stroke-opacity="0.6"/>
<circle cx="49.9" cy="139.4" r="0.85" fill="#6e6e6e" fill-opacity="0.9"/>
<circle cx="55.7" cy="138.4" r="0.85" fill="#6e6e6e" fill-opacity="0.9"/>
<circle cx="61.4" cy="137.0" r="0.85" fill="#6e6e6e" fill-opacity="0.9"/>
<circle cx="67.2" cy="135.4" r="0.85" fill="#6e6e6e" fill-opacity="0.9"/>
<circle cx="73.0" cy="133.7" r="0.85" fill="#6e6e6e" fill-opacity="0.9"/>
<circle cx="78.8" cy="131.8" r="0.85" fill="#6e6e6e" fill-opacity="0.9"/>
<circle cx="84.5" cy="129.1" r="0.85" fill="#6e6e6e" fill-opacity="0.9"/>
<circle cx="90.3" cy="125.1" r="0.85" fill="#6e6e6e" fill-opacity="0.9"/>
<circle cx="96.1" cy="119.9" r="0.85" fill="#6e6e6e" fill-opacity="0.9"/>
<circle cx="101.9" cy="113.2" r="0.85" fill="#6e6e6e" fill-opacity="0.9"/>
<circle cx="107.7" cy="104.9" r="0.85" fill="#6e6e6e" fill-opacity="0.9"/>
<circle cx="112.6" cy="96.1" r="0.85" fill="#6e6e6e" fill-opacity="0.9"/>
<polyline points="142.3,138.3 144.0,138.1 145.6,137.9 147.2,137.8 148.9,137.6 150.6,137.4 152.2,137.2 153.9,137.0 155.5,136.8 157.2,136.6 158.8,136.4 160.5,136.1 162.1,135.9 163.8,135.7 165.4,135.4 167.1,135.2 168.7,134.9 170.4,134.6 172.0,134.3 173.7,133.9 175.3,133.5 177.0,132.9 178.6,132.2 180.2,131.4 181.9,130.4 183.6,129.4 185.2,128.3 186.9,127.2 188.5,126.3 190.2,125.4 191.8,124.4 193.5,123.2 195.1,121.7 196.8,120.0 198.4,118.2 200.1,116.4 201.7,114.6 203.4,112.8 205.0,110.6 206.7,108.0 208.3,105.0 209.9,101.7 211.4,98.4" fill="none" stroke="#CD3030" stroke-width="0.7" stroke-opacity="0.55"/>
<circle cx="142.3" cy="138.3" r="0.85" fill="#CD3030" fill-opacity="0.9"/>
<circle cx="148.1" cy="137.7" r="0.85" fill="#CD3030" fill-opacity="0.9"/>
<circle cx="153.9" cy="137.0" r="0.85" fill="#CD3030" fill-opacity="0.9"/>
<circle cx="159.6" cy="136.2" r="0.85" fill="#CD3030" fill-opacity="0.9"/>
<circle cx="165.4" cy="135.4" r="0.85" fill="#CD3030" fill-opacity="0.9"/>
<circle cx="171.2" cy="134.4" r="0.85" fill="#CD3030" fill-opacity="0.9"/>
<circle cx="177.0" cy="132.9" r="0.85" fill="#CD3030" fill-opacity="0.9"/>
<circle cx="182.7" cy="129.9" r="0.85" fill="#CD3030" fill-opacity="0.9"/>
<circle cx="188.5" cy="126.3" r="0.85" fill="#CD3030" fill-opacity="0.9"/>
<circle cx="194.3" cy="122.4" r="0.85" fill="#CD3030" fill-opacity="0.9"/>
<circle cx="200.1" cy="116.4" r="0.85" fill="#CD3030" fill-opacity="0.9"/>
<circle cx="205.8" cy="109.4" r="0.85" fill="#CD3030" fill-opacity="0.9"/>
<circle cx="211.4" cy="98.4" r="0.85" fill="#CD3030" fill-opacity="0.9"/>
<polyline points="142.3,138.5 144.0,138.3 145.6,138.1 147.2,138.0 148.9,137.8 150.6,137.6 152.2,137.4 153.9,137.2 155.5,137.0 157.2,136.8 158.8,136.5 160.5,136.3 162.1,136.1 163.8,135.8 165.4,135.6 167.1,135.3 168.7,135.0 170.4,134.7 172.0,134.4 173.7,134.1 175.3,133.7 177.0,133.2 178.6,132.7 180.2,132.2 181.9,131.6 183.6,130.9 185.2,130.2 186.9,129.5 188.5,128.7 190.2,127.8 191.8,127.0 193.5,126.0 195.1,124.9 196.8,123.8 198.4,122.4 200.1,120.9 201.7,119.0 203.4,116.8 205.0,114.6 206.7,112.4 208.3,110.0 209.9,107.5 211.6,104.7 213.2,101.5 214.9,98.0 216.6,94.2 218.2,90.0" fill="none" stroke="#CD3030" stroke-width="0.7" stroke-opacity="0.55"/>
<circle cx="142.3" cy="138.5" r="0.85" fill="#CD3030" fill-opacity="0.9"/>
<circle cx="148.1" cy="137.9" r="0.85" fill="#CD3030" fill-opacity="0.9"/>
<circle cx="153.9" cy="137.2" r="0.85" fill="#CD3030" fill-opacity="0.9"/>
<circle cx="159.6" cy="136.4" r="0.85" fill="#CD3030" fill-opacity="0.9"/>
<circle cx="165.4" cy="135.6" r="0.85" fill="#CD3030" fill-opacity="0.9"/>
<circle cx="171.2" cy="134.6" r="0.85" fill="#CD3030" fill-opacity="0.9"/>
<circle cx="177.0" cy="133.2" r="0.85" fill="#CD3030" fill-opacity="0.9"/>
<circle cx="182.7" cy="131.3" r="0.85" fill="#CD3030" fill-opacity="0.9"/>
<circle cx="188.5" cy="128.7" r="0.85" fill="#CD3030" fill-opacity="0.9"/>
<circle cx="194.3" cy="125.5" r="0.85" fill="#CD3030" fill-opacity="0.9"/>
<circle cx="200.1" cy="120.9" r="0.85" fill="#CD3030" fill-opacity="0.9"/>
<circle cx="205.8" cy="113.5" r="0.85" fill="#CD3030" fill-opacity="0.9"/>
<circle cx="211.6" cy="104.7" r="0.85" fill="#CD3030" fill-opacity="0.9"/>
<circle cx="218.2" cy="90.0" r="0.85" fill="#CD3030" fill-opacity="0.9"/>
<polyline points="142.3,138.1 144.0,138.0 145.6,137.8 147.2,137.7 148.9,137.6 150.6,137.5 152.2,137.3 153.9,137.2 155.5,137.1 157.2,136.9 158.8,136.7 160.5,136.6 162.1,136.4 163.8,136.2 165.4,135.9 167.1,135.7 168.7,135.5 170.4,135.2 172.0,134.9 173.7,134.6 175.3,134.2 177.0,133.9 178.6,133.4 180.2,133.0 181.9,132.4 183.6,131.9 185.2,131.3 186.9,130.6 188.5,129.9 190.2,129.1 191.8,128.3 193.5,127.4 195.1,126.5 196.8,125.4 198.4,124.2 200.1,122.9 201.7,121.5 203.4,119.8 205.0,118.0 206.7,115.9 208.3,113.7 209.9,111.3 211.6,108.8 213.2,106.0 214.9,102.9 216.6,99.7 218.2,96.5 219.9,93.6 221.5,90.8 223.2,88.0 224.6,85.2" fill="none" stroke="#CD3030" stroke-width="0.7" stroke-opacity="0.55"/>
<circle cx="142.3" cy="138.1" r="0.85" fill="#CD3030" fill-opacity="0.9"/>
<circle cx="148.1" cy="137.7" r="0.85" fill="#CD3030" fill-opacity="0.9"/>
<circle cx="153.9" cy="137.2" r="0.85" fill="#CD3030" fill-opacity="0.9"/>
<circle cx="159.6" cy="136.6" r="0.85" fill="#CD3030" fill-opacity="0.9"/>
<circle cx="165.4" cy="135.9" r="0.85" fill="#CD3030" fill-opacity="0.9"/>
<circle cx="171.2" cy="135.0" r="0.85" fill="#CD3030" fill-opacity="0.9"/>
<circle cx="177.0" cy="133.9" r="0.85" fill="#CD3030" fill-opacity="0.9"/>
<circle cx="182.7" cy="132.2" r="0.85" fill="#CD3030" fill-opacity="0.9"/>
<circle cx="188.5" cy="129.9" r="0.85" fill="#CD3030" fill-opacity="0.9"/>
<circle cx="194.3" cy="127.0" r="0.85" fill="#CD3030" fill-opacity="0.9"/>
<circle cx="200.1" cy="122.9" r="0.85" fill="#CD3030" fill-opacity="0.9"/>
<circle cx="205.8" cy="117.0" r="0.85" fill="#CD3030" fill-opacity="0.9"/>
<circle cx="211.6" cy="108.8" r="0.85" fill="#CD3030" fill-opacity="0.9"/>
<circle cx="217.4" cy="98.1" r="0.85" fill="#CD3030" fill-opacity="0.9"/>
<circle cx="224.6" cy="85.2" r="0.85" fill="#CD3030" fill-opacity="0.9"/>
<polyline points="142.3,138.3 144.0,138.2 145.6,138.0 147.2,137.9 148.9,137.8 150.6,137.7 152.2,137.5 153.9,137.4 155.5,137.3 157.2,137.1 158.8,136.9 160.5,136.7 162.1,136.6 163.8,136.3 165.4,136.1 167.1,135.9 168.7,135.6 170.4,135.4 172.0,135.1 173.7,134.8 175.3,134.4 177.0,134.1 178.6,133.7 180.2,133.3 181.9,132.9 183.6,132.4 185.2,131.9 186.9,131.3 188.5,130.7 190.2,130.0 191.8,129.3 193.5,128.4 195.1,127.5 196.8,126.4 198.4,125.3 200.1,124.1 201.7,122.8 203.4,121.4 205.0,119.8 206.7,118.0 208.3,116.1 209.9,114.0 211.6,111.7 213.2,109.0 214.9,105.9 216.6,102.7 218.2,99.4 219.9,96.4 221.5,93.4 223.2,90.4 224.6,87.4" fill="none" stroke="#CD3030" stroke-width="0.7" stroke-opacity="0.55"/>
<circle cx="142.3" cy="138.3" r="0.85" fill="#CD3030" fill-opacity="0.9"/>
<circle cx="148.1" cy="137.9" r="0.85" fill="#CD3030" fill-opacity="0.9"/>
<circle cx="153.9" cy="137.4" r="0.85" fill="#CD3030" fill-opacity="0.9"/>
<circle cx="159.6" cy="136.8" r="0.85" fill="#CD3030" fill-opacity="0.9"/>
<circle cx="165.4" cy="136.1" r="0.85" fill="#CD3030" fill-opacity="0.9"/>
<circle cx="171.2" cy="135.2" r="0.85" fill="#CD3030" fill-opacity="0.9"/>
<circle cx="177.0" cy="134.1" r="0.85" fill="#CD3030" fill-opacity="0.9"/>
<circle cx="182.7" cy="132.7" r="0.85" fill="#CD3030" fill-opacity="0.9"/>
<circle cx="188.5" cy="130.7" r="0.85" fill="#CD3030" fill-opacity="0.9"/>
<circle cx="194.3" cy="127.9" r="0.85" fill="#CD3030" fill-opacity="0.9"/>
<circle cx="200.1" cy="124.1" r="0.85" fill="#CD3030" fill-opacity="0.9"/>
<circle cx="205.8" cy="118.9" r="0.85" fill="#CD3030" fill-opacity="0.9"/>
<circle cx="211.6" cy="111.7" r="0.85" fill="#CD3030" fill-opacity="0.9"/>
<circle cx="217.4" cy="101.0" r="0.85" fill="#CD3030" fill-opacity="0.9"/>
<circle cx="224.6" cy="87.4" r="0.85" fill="#CD3030" fill-opacity="0.9"/>
<polyline points="142.3,138.7 144.0,138.5 145.6,138.4 147.2,138.3 148.9,138.1 150.6,138.0 152.2,137.8 153.9,137.6 155.5,137.5 157.2,137.3 158.8,137.1 160.5,136.9 162.1,136.7 163.8,136.5 165.4,136.3 167.1,136.1 168.7,135.9 170.4,135.6 172.0,135.4 173.7,135.1 175.3,134.8 177.0,134.5 178.6,134.2 180.2,133.8 181.9,133.4 183.6,133.0 185.2,132.6 186.9,132.1 188.5,131.5 190.2,130.9 191.8,130.2 193.5,129.4 195.1,128.5 196.8,127.5 198.4,126.4 200.1,125.3 201.7,124.1 203.4,122.7 205.0,121.2 206.7,119.6 208.3,117.8 209.9,115.8 211.6,113.6 213.2,111.1 214.9,108.3 216.6,105.3 218.2,102.3 219.9,99.4 221.5,96.5 223.2,93.6 224.6,90.7" fill="none" stroke="#CD3030" stroke-width="0.7" stroke-opacity="0.55"/>
<circle cx="142.3" cy="138.7" r="0.85" fill="#CD3030" fill-opacity="0.9"/>
<circle cx="148.1" cy="138.2" r="0.85" fill="#CD3030" fill-opacity="0.9"/>
<circle cx="153.9" cy="137.6" r="0.85" fill="#CD3030" fill-opacity="0.9"/>
<circle cx="159.6" cy="137.0" r="0.85" fill="#CD3030" fill-opacity="0.9"/>
<circle cx="165.4" cy="136.3" r="0.85" fill="#CD3030" fill-opacity="0.9"/>
<circle cx="171.2" cy="135.5" r="0.85" fill="#CD3030" fill-opacity="0.9"/>
<circle cx="177.0" cy="134.5" r="0.85" fill="#CD3030" fill-opacity="0.9"/>
<circle cx="182.7" cy="133.2" r="0.85" fill="#CD3030" fill-opacity="0.9"/>
<circle cx="188.5" cy="131.5" r="0.85" fill="#CD3030" fill-opacity="0.9"/>
<circle cx="194.3" cy="128.9" r="0.85" fill="#CD3030" fill-opacity="0.9"/>
<circle cx="200.1" cy="125.3" r="0.85" fill="#CD3030" fill-opacity="0.9"/>
<circle cx="205.8" cy="120.4" r="0.85" fill="#CD3030" fill-opacity="0.9"/>
<circle cx="211.6" cy="113.6" r="0.85" fill="#CD3030" fill-opacity="0.9"/>
<circle cx="217.4" cy="103.8" r="0.85" fill="#CD3030" fill-opacity="0.9"/>
<circle cx="224.6" cy="90.7" r="0.85" fill="#CD3030" fill-opacity="0.9"/>
<polyline points="142.3,138.4 144.0,138.3 145.6,138.2 147.2,138.1 148.9,138.0 150.6,137.9 152.2,137.8 153.9,137.7 155.5,137.6 157.2,137.5 158.8,137.3 160.5,137.2 162.1,137.0 163.8,136.8 165.4,136.6 167.1,136.4 168.7,136.2 170.4,136.0 172.0,135.7 173.7,135.5 175.3,135.2 177.0,134.9 178.6,134.6 180.2,134.3 181.9,134.0 183.6,133.7 185.2,133.3 186.9,132.8 188.5,132.4 190.2,131.8 191.8,131.2 193.5,130.5 195.1,129.7 196.8,128.8 198.4,127.9 200.1,126.9 201.7,125.8 203.4,124.6 205.0,123.2 206.7,121.8 208.3,120.2 209.9,118.4 211.6,116.5 213.2,114.4 214.9,112.1 216.6,109.6 218.2,107.1 219.9,104.6 221.5,102.1 223.2,99.5 224.6,96.9" fill="none" stroke="#CD3030" stroke-width="0.7" stroke-opacity="0.55"/>
<circle cx="142.3" cy="138.4" r="0.85" fill="#CD3030" fill-opacity="0.9"/>
<circle cx="148.1" cy="138.0" r="0.85" fill="#CD3030" fill-opacity="0.9"/>
<circle cx="153.9" cy="137.7" r="0.85" fill="#CD3030" fill-opacity="0.9"/>
<circle cx="159.6" cy="137.2" r="0.85" fill="#CD3030" fill-opacity="0.9"/>
<circle cx="165.4" cy="136.6" r="0.85" fill="#CD3030" fill-opacity="0.9"/>
<circle cx="171.2" cy="135.8" r="0.85" fill="#CD3030" fill-opacity="0.9"/>
<circle cx="177.0" cy="134.9" r="0.85" fill="#CD3030" fill-opacity="0.9"/>
<circle cx="182.7" cy="133.8" r="0.85" fill="#CD3030" fill-opacity="0.9"/>
<circle cx="188.5" cy="132.4" r="0.85" fill="#CD3030" fill-opacity="0.9"/>
<circle cx="194.3" cy="130.1" r="0.85" fill="#CD3030" fill-opacity="0.9"/>
<circle cx="200.1" cy="126.9" r="0.85" fill="#CD3030" fill-opacity="0.9"/>
<circle cx="205.8" cy="122.5" r="0.85" fill="#CD3030" fill-opacity="0.9"/>
<circle cx="211.6" cy="116.5" r="0.85" fill="#CD3030" fill-opacity="0.9"/>
<circle cx="217.4" cy="108.4" r="0.85" fill="#CD3030" fill-opacity="0.9"/>
<circle cx="224.6" cy="96.9" r="0.85" fill="#CD3030" fill-opacity="0.9"/>
<polyline points="142.3,138.6 144.0,138.4 145.6,138.3 147.2,138.2 148.9,138.0 150.6,137.9 152.2,137.8 153.9,137.6 155.5,137.5 157.2,137.3 158.8,137.1 160.5,136.9 162.1,136.8 163.8,136.6 165.4,136.4 167.1,136.2 168.7,136.0 170.4,135.8 172.0,135.5 173.7,135.3 175.3,135.0 177.0,134.7 178.6,134.4 180.2,134.1 181.9,133.7 183.6,133.4 185.2,132.9 186.9,132.5 188.5,131.9 190.2,131.3 191.8,130.7 193.5,129.9 195.1,129.1 196.8,128.2 198.4,127.2 200.1,126.1 201.7,124.9 203.4,123.6 205.0,122.2 206.7,120.6 208.3,118.8 209.9,116.8 211.6,114.6 213.2,111.9 214.9,108.8 216.6,105.2 218.2,101.1 219.9,96.7 220.8,93.8" fill="none" stroke="#CD3030" stroke-width="0.7" stroke-opacity="0.55"/>
<circle cx="142.3" cy="138.6" r="0.85" fill="#CD3030" fill-opacity="0.9"/>
<circle cx="148.1" cy="138.1" r="0.85" fill="#CD3030" fill-opacity="0.9"/>
<circle cx="153.9" cy="137.6" r="0.85" fill="#CD3030" fill-opacity="0.9"/>
<circle cx="159.6" cy="137.0" r="0.85" fill="#CD3030" fill-opacity="0.9"/>
<circle cx="165.4" cy="136.4" r="0.85" fill="#CD3030" fill-opacity="0.9"/>
<circle cx="171.2" cy="135.6" r="0.85" fill="#CD3030" fill-opacity="0.9"/>
<circle cx="177.0" cy="134.7" r="0.85" fill="#CD3030" fill-opacity="0.9"/>
<circle cx="182.7" cy="133.5" r="0.85" fill="#CD3030" fill-opacity="0.9"/>
<circle cx="188.5" cy="131.9" r="0.85" fill="#CD3030" fill-opacity="0.9"/>
<circle cx="194.3" cy="129.5" r="0.85" fill="#CD3030" fill-opacity="0.9"/>
<circle cx="200.1" cy="126.1" r="0.85" fill="#CD3030" fill-opacity="0.9"/>
<circle cx="205.8" cy="121.4" r="0.85" fill="#CD3030" fill-opacity="0.9"/>
<circle cx="211.6" cy="114.6" r="0.85" fill="#CD3030" fill-opacity="0.9"/>
<circle cx="217.4" cy="103.2" r="0.85" fill="#CD3030" fill-opacity="0.9"/>
<circle cx="220.8" cy="93.8" r="0.85" fill="#CD3030" fill-opacity="0.9"/>
<polyline points="142.3,138.9 144.0,138.7 145.6,138.6 147.2,138.5 148.9,138.4 150.6,138.2 152.2,138.1 153.9,138.0 155.5,137.8 157.2,137.7 158.8,137.5 160.5,137.3 162.1,137.2 163.8,137.0 165.4,136.8 167.1,136.6 168.7,136.4 170.4,136.2 172.0,136.0 173.7,135.8 175.3,135.6 177.0,135.3 178.6,135.1 180.2,134.9 181.9,134.6 183.6,134.3 185.2,134.0 186.9,133.6 188.5,133.2 190.2,132.6 191.8,132.0 193.5,131.3 195.1,130.5 196.8,129.6 198.4,128.7 200.1,127.7 201.7,126.6 203.4,125.4 205.0,124.1 206.7,122.6 208.3,121.1 209.9,119.4 211.6,117.5 213.2,115.4 214.9,113.1 216.6,110.6 218.2,108.1 219.9,105.7 221.5,103.3 223.2,100.8 224.6,98.5" fill="none" stroke="#CD3030" stroke-width="0.7" stroke-opacity="0.55"/>
<circle cx="142.3" cy="138.9" r="0.85" fill="#CD3030" fill-opacity="0.9"/>
<circle cx="148.1" cy="138.4" r="0.85" fill="#CD3030" fill-opacity="0.9"/>
<circle cx="153.9" cy="138.0" r="0.85" fill="#CD3030" fill-opacity="0.9"/>
<circle cx="159.6" cy="137.4" r="0.85" fill="#CD3030" fill-opacity="0.9"/>
<circle cx="165.4" cy="136.8" r="0.85" fill="#CD3030" fill-opacity="0.9"/>
<circle cx="171.2" cy="136.1" r="0.85" fill="#CD3030" fill-opacity="0.9"/>
<circle cx="177.0" cy="135.3" r="0.85" fill="#CD3030" fill-opacity="0.9"/>
<circle cx="182.7" cy="134.4" r="0.85" fill="#CD3030" fill-opacity="0.9"/>
<circle cx="188.5" cy="133.2" r="0.85" fill="#CD3030" fill-opacity="0.9"/>
<circle cx="194.3" cy="130.9" r="0.85" fill="#CD3030" fill-opacity="0.9"/>
<circle cx="200.1" cy="127.7" r="0.85" fill="#CD3030" fill-opacity="0.9"/>
<circle cx="205.8" cy="123.4" r="0.85" fill="#CD3030" fill-opacity="0.9"/>
<circle cx="211.6" cy="117.5" r="0.85" fill="#CD3030" fill-opacity="0.9"/>
<circle cx="217.4" cy="109.3" r="0.85" fill="#CD3030" fill-opacity="0.9"/>
<circle cx="224.6" cy="98.5" r="0.85" fill="#CD3030" fill-opacity="0.9"/>
<rect x="45.50" y="201.00" width="93.40" height="9.30" fill="#EBEBEB"/>
<text x="92.20" y="207.70" font-size="6.3" text-anchor="middle" fill="#000" font-weight="bold" stroke="#000" stroke-width="0.08" >Vehicle control (C)</text>
<rect x="141.00" y="201.00" width="93.60" height="9.30" fill="#EBEBEB"/>
<text x="187.80" y="207.70" font-size="6.3" text-anchor="middle" fill="#000" font-weight="bold" stroke="#000" stroke-width="0.08" >Drug A (A)</text>
<rect x="45.50" y="276.10" width="93.40" height="8.90" fill="#EBEBEB"/>
<text x="92.20" y="282.80" font-size="6.3" text-anchor="middle" fill="#000" font-weight="bold" stroke="#000" stroke-width="0.08" >Drug B (B)</text>
<rect x="141.00" y="276.10" width="93.60" height="8.90" fill="#EBEBEB"/>
<text x="187.80" y="282.80" font-size="6.3" text-anchor="middle" fill="#000" font-weight="bold" stroke="#000" stroke-width="0.08" >Drug A+B (A+B)</text>
<line x1="49.60" y1="210.30" x2="49.60" y2="275.00" stroke="#F3F3F3" stroke-width="0.8"/>
<line x1="66.60" y1="210.30" x2="66.60" y2="275.00" stroke="#F3F3F3" stroke-width="0.8"/>
<line x1="83.60" y1="210.30" x2="83.60" y2="275.00" stroke="#F3F3F3" stroke-width="0.8"/>
<line x1="100.60" y1="210.30" x2="100.60" y2="275.00" stroke="#F3F3F3" stroke-width="0.8"/>
<line x1="117.60" y1="210.30" x2="117.60" y2="275.00" stroke="#F3F3F3" stroke-width="0.8"/>
<line x1="134.60" y1="210.30" x2="134.60" y2="275.00" stroke="#F3F3F3" stroke-width="0.8"/>
<line x1="45.50" y1="273.70" x2="138.90" y2="273.70" stroke="#F3F3F3" stroke-width="0.8"/>
<line x1="45.50" y1="253.63" x2="138.90" y2="253.63" stroke="#F3F3F3" stroke-width="0.8"/>
<line x1="45.50" y1="233.57" x2="138.90" y2="233.57" stroke="#F3F3F3" stroke-width="0.8"/>
<line x1="45.50" y1="213.50" x2="138.90" y2="213.50" stroke="#F3F3F3" stroke-width="0.8"/>
<line x1="145.50" y1="210.30" x2="145.50" y2="275.00" stroke="#F3F3F3" stroke-width="0.8"/>
<line x1="162.50" y1="210.30" x2="162.50" y2="275.00" stroke="#F3F3F3" stroke-width="0.8"/>
<line x1="179.50" y1="210.30" x2="179.50" y2="275.00" stroke="#F3F3F3" stroke-width="0.8"/>
<line x1="196.50" y1="210.30" x2="196.50" y2="275.00" stroke="#F3F3F3" stroke-width="0.8"/>
<line x1="213.50" y1="210.30" x2="213.50" y2="275.00" stroke="#F3F3F3" stroke-width="0.8"/>
<line x1="230.50" y1="210.30" x2="230.50" y2="275.00" stroke="#F3F3F3" stroke-width="0.8"/>
<line x1="141.00" y1="273.70" x2="234.60" y2="273.70" stroke="#F3F3F3" stroke-width="0.8"/>
<line x1="141.00" y1="253.63" x2="234.60" y2="253.63" stroke="#F3F3F3" stroke-width="0.8"/>
<line x1="141.00" y1="233.57" x2="234.60" y2="233.57" stroke="#F3F3F3" stroke-width="0.8"/>
<line x1="141.00" y1="213.50" x2="234.60" y2="213.50" stroke="#F3F3F3" stroke-width="0.8"/>
<line x1="49.60" y1="285.00" x2="49.60" y2="348.30" stroke="#F3F3F3" stroke-width="0.8"/>
<line x1="66.60" y1="285.00" x2="66.60" y2="348.30" stroke="#F3F3F3" stroke-width="0.8"/>
<line x1="83.60" y1="285.00" x2="83.60" y2="348.30" stroke="#F3F3F3" stroke-width="0.8"/>
<line x1="100.60" y1="285.00" x2="100.60" y2="348.30" stroke="#F3F3F3" stroke-width="0.8"/>
<line x1="117.60" y1="285.00" x2="117.60" y2="348.30" stroke="#F3F3F3" stroke-width="0.8"/>
<line x1="134.60" y1="285.00" x2="134.60" y2="348.30" stroke="#F3F3F3" stroke-width="0.8"/>
<line x1="45.50" y1="348.00" x2="138.90" y2="348.00" stroke="#F3F3F3" stroke-width="0.8"/>
<line x1="45.50" y1="328.00" x2="138.90" y2="328.00" stroke="#F3F3F3" stroke-width="0.8"/>
<line x1="45.50" y1="308.00" x2="138.90" y2="308.00" stroke="#F3F3F3" stroke-width="0.8"/>
<line x1="45.50" y1="288.00" x2="138.90" y2="288.00" stroke="#F3F3F3" stroke-width="0.8"/>
<line x1="145.50" y1="285.00" x2="145.50" y2="348.30" stroke="#F3F3F3" stroke-width="0.8"/>
<line x1="162.50" y1="285.00" x2="162.50" y2="348.30" stroke="#F3F3F3" stroke-width="0.8"/>
<line x1="179.50" y1="285.00" x2="179.50" y2="348.30" stroke="#F3F3F3" stroke-width="0.8"/>
<line x1="196.50" y1="285.00" x2="196.50" y2="348.30" stroke="#F3F3F3" stroke-width="0.8"/>
<line x1="213.50" y1="285.00" x2="213.50" y2="348.30" stroke="#F3F3F3" stroke-width="0.8"/>
<line x1="230.50" y1="285.00" x2="230.50" y2="348.30" stroke="#F3F3F3" stroke-width="0.8"/>
<line x1="141.00" y1="348.00" x2="234.60" y2="348.00" stroke="#F3F3F3" stroke-width="0.8"/>
<line x1="141.00" y1="328.00" x2="234.60" y2="328.00" stroke="#F3F3F3" stroke-width="0.8"/>
<line x1="141.00" y1="308.00" x2="234.60" y2="308.00" stroke="#F3F3F3" stroke-width="0.8"/>
<line x1="141.00" y1="288.00" x2="234.60" y2="288.00" stroke="#F3F3F3" stroke-width="0.8"/>
<polyline points="49.6,267.7 51.3,267.2 53.0,266.6 54.7,266.0 56.4,265.3 58.1,264.5 59.8,263.5 61.5,262.5 63.2,261.5 64.9,260.6 66.6,259.5 68.3,258.2 70.0,256.5 71.7,254.5 73.4,252.4 75.1,250.5 76.8,248.5 78.5,246.4 80.2,244.0 81.9,241.1 83.6,237.7 85.3,233.8 87.0,229.4 88.7,224.3 90.4,218.5 90.6,217.9" fill="none" stroke="#1874CD" stroke-width="0.8" stroke-opacity="0.8"/>
<circle cx="49.6" cy="267.7" r="0.95" fill="#1874CD" fill-opacity="0.9"/>
<circle cx="55.6" cy="265.7" r="0.95" fill="#1874CD" fill-opacity="0.9"/>
<circle cx="61.5" cy="262.5" r="0.95" fill="#1874CD" fill-opacity="0.9"/>
<circle cx="67.5" cy="258.9" r="0.95" fill="#1874CD" fill-opacity="0.9"/>
<circle cx="73.4" cy="252.4" r="0.95" fill="#1874CD" fill-opacity="0.9"/>
<circle cx="79.3" cy="245.3" r="0.95" fill="#1874CD" fill-opacity="0.9"/>
<circle cx="85.3" cy="233.8" r="0.95" fill="#1874CD" fill-opacity="0.9"/>
<circle cx="90.6" cy="217.9" r="0.95" fill="#1874CD" fill-opacity="0.9"/>
<polyline points="49.6,268.5 51.3,268.0 53.0,267.4 54.7,266.8 56.4,266.2 58.1,265.3 59.8,264.3 61.5,263.3 63.2,262.3 64.9,261.4 66.6,260.4 68.3,259.1 70.0,257.5 71.7,255.6 73.4,253.6 75.1,251.8 76.8,249.9 78.5,247.9 80.2,245.6 81.9,243.0 83.6,240.1 85.3,236.7 87.0,232.8 88.7,228.2 90.4,223.1 90.6,222.5" fill="none" stroke="#1874CD" stroke-width="0.8" stroke-opacity="0.8"/>
<circle cx="49.6" cy="268.5" r="0.95" fill="#1874CD" fill-opacity="0.9"/>
<circle cx="55.6" cy="266.5" r="0.95" fill="#1874CD" fill-opacity="0.9"/>
<circle cx="61.5" cy="263.3" r="0.95" fill="#1874CD" fill-opacity="0.9"/>
<circle cx="67.5" cy="259.8" r="0.95" fill="#1874CD" fill-opacity="0.9"/>
<circle cx="73.4" cy="253.6" r="0.95" fill="#1874CD" fill-opacity="0.9"/>
<circle cx="79.3" cy="246.8" r="0.95" fill="#1874CD" fill-opacity="0.9"/>
<circle cx="85.3" cy="236.7" r="0.95" fill="#1874CD" fill-opacity="0.9"/>
<circle cx="90.6" cy="222.5" r="0.95" fill="#1874CD" fill-opacity="0.9"/>
<polyline points="49.6,269.3 51.3,268.8 53.0,268.3 54.7,267.8 56.4,267.1 58.1,266.4 59.8,265.4 61.5,264.5 63.2,263.5 64.9,262.6 66.6,261.6 68.3,260.3 70.0,258.8 71.7,257.0 73.4,255.2 75.1,253.6 76.8,252.1 78.5,250.5 80.2,248.6 81.9,246.4 83.6,244.0 85.3,241.2 87.0,238.0 88.7,234.3 90.4,230.2 90.6,229.8" fill="none" stroke="#1874CD" stroke-width="0.8" stroke-opacity="0.8"/>
<circle cx="49.6" cy="269.3" r="0.95" fill="#1874CD" fill-opacity="0.9"/>
<circle cx="55.6" cy="267.5" r="0.95" fill="#1874CD" fill-opacity="0.9"/>
<circle cx="61.5" cy="264.5" r="0.95" fill="#1874CD" fill-opacity="0.9"/>
<circle cx="67.5" cy="261.0" r="0.95" fill="#1874CD" fill-opacity="0.9"/>
<circle cx="73.4" cy="255.2" r="0.95" fill="#1874CD" fill-opacity="0.9"/>
<circle cx="79.3" cy="249.6" r="0.95" fill="#1874CD" fill-opacity="0.9"/>
<circle cx="85.3" cy="241.2" r="0.95" fill="#1874CD" fill-opacity="0.9"/>
<circle cx="90.6" cy="229.8" r="0.95" fill="#1874CD" fill-opacity="0.9"/>
<polyline points="49.6,268.1 51.3,267.6 53.0,267.0 54.7,266.4 56.4,265.7 58.1,264.9 59.8,263.9 61.5,262.9 63.2,261.9 64.9,261.0 66.6,260.0 68.3,258.7 70.0,257.0 71.7,255.1 73.4,253.0 75.1,251.1 76.8,249.1 78.5,247.0 80.2,244.6 81.9,241.9 83.6,238.9 85.3,235.4 87.0,230.9 88.7,225.5" fill="none" stroke="#1874CD" stroke-width="0.8" stroke-opacity="0.8"/>
<circle cx="49.6" cy="268.1" r="0.95" fill="#1874CD" fill-opacity="0.9"/>
<circle cx="55.6" cy="266.1" r="0.95" fill="#1874CD" fill-opacity="0.9"/>
<circle cx="61.5" cy="262.9" r="0.95" fill="#1874CD" fill-opacity="0.9"/>
<circle cx="67.5" cy="259.4" r="0.95" fill="#1874CD" fill-opacity="0.9"/>
<circle cx="73.4" cy="253.0" r="0.95" fill="#1874CD" fill-opacity="0.9"/>
<circle cx="79.3" cy="245.8" r="0.95" fill="#1874CD" fill-opacity="0.9"/>
<circle cx="85.3" cy="235.4" r="0.95" fill="#1874CD" fill-opacity="0.9"/>
<circle cx="88.7" cy="225.5" r="0.95" fill="#1874CD" fill-opacity="0.9"/>
<polyline points="49.6,270.3 51.3,269.9 53.0,269.6 54.7,269.2 56.4,268.7 58.1,268.3 59.8,267.8 61.5,267.3 63.2,266.8 64.9,266.3 66.6,265.7 68.3,264.9 70.0,263.7 71.7,262.1 73.4,260.7 75.1,259.4 76.8,258.1 78.5,256.9 80.2,255.6 81.9,254.5 83.6,253.3 85.3,251.6 87.0,249.0 88.7,245.5 90.4,241.9 92.1,238.3 93.8,234.5 95.5,230.5 97.2,226.0 97.4,225.5" fill="none" stroke="#1874CD" stroke-width="0.8" stroke-opacity="0.8"/>
<circle cx="49.6" cy="270.3" r="0.95" fill="#1874CD" fill-opacity="0.9"/>
<circle cx="55.6" cy="268.9" r="0.95" fill="#1874CD" fill-opacity="0.9"/>
<circle cx="61.5" cy="267.3" r="0.95" fill="#1874CD" fill-opacity="0.9"/>
<circle cx="67.5" cy="265.4" r="0.95" fill="#1874CD" fill-opacity="0.9"/>
<circle cx="73.4" cy="260.7" r="0.95" fill="#1874CD" fill-opacity="0.9"/>
<circle cx="79.3" cy="256.3" r="0.95" fill="#1874CD" fill-opacity="0.9"/>
<circle cx="85.3" cy="251.6" r="0.95" fill="#1874CD" fill-opacity="0.9"/>
<circle cx="91.2" cy="240.1" r="0.95" fill="#1874CD" fill-opacity="0.9"/>
<circle cx="97.4" cy="225.5" r="0.95" fill="#1874CD" fill-opacity="0.9"/>
<polyline points="49.6,271.1 51.3,270.8 53.0,270.4 54.7,270.0 56.4,269.5 58.1,269.1 59.8,268.7 61.5,268.3 63.2,267.8 64.9,267.4 66.6,266.9 68.3,266.1 70.0,265.0 71.7,263.6 73.4,262.2 75.1,261.0 76.8,259.9 78.5,258.8 80.2,257.6 81.9,256.4 83.6,255.2 85.3,253.5 87.0,251.1 88.7,248.1 90.4,244.9 92.1,241.8 93.8,238.5 95.5,234.9 97.2,231.0 97.4,230.6" fill="none" stroke="#1874CD" stroke-width="0.8" stroke-opacity="0.8"/>
<circle cx="49.6" cy="271.1" r="0.95" fill="#1874CD" fill-opacity="0.9"/>
<circle cx="55.6" cy="269.7" r="0.95" fill="#1874CD" fill-opacity="0.9"/>
<circle cx="61.5" cy="268.3" r="0.95" fill="#1874CD" fill-opacity="0.9"/>
<circle cx="67.5" cy="266.5" r="0.95" fill="#1874CD" fill-opacity="0.9"/>
<circle cx="73.4" cy="262.2" r="0.95" fill="#1874CD" fill-opacity="0.9"/>
<circle cx="79.3" cy="258.2" r="0.95" fill="#1874CD" fill-opacity="0.9"/>
<circle cx="85.3" cy="253.5" r="0.95" fill="#1874CD" fill-opacity="0.9"/>
<circle cx="91.2" cy="243.4" r="0.95" fill="#1874CD" fill-opacity="0.9"/>
<circle cx="97.4" cy="230.6" r="0.95" fill="#1874CD" fill-opacity="0.9"/>
<polyline points="145.5,268.5 147.2,268.1 148.9,267.8 150.6,267.4 152.3,267.0 154.0,266.5 155.7,266.0 157.4,265.5 159.1,265.0 160.8,264.4 162.5,263.7 164.2,262.9 165.9,262.0 167.6,261.0 169.3,259.9 171.0,258.7 172.7,257.5 174.4,256.1 176.1,254.8 177.8,253.4 179.5,252.0 181.2,250.6 182.9,249.0 184.6,247.3 186.3,245.4 188.0,243.2 189.7,240.7 191.4,237.9 193.1,234.9 194.8,231.7 196.5,228.3 198.2,224.6 199.4,221.8" fill="none" stroke="#E9B50C" stroke-width="0.8" stroke-opacity="0.7"/>
<circle cx="145.5" cy="268.5" r="0.85" fill="#E9B50C" fill-opacity="0.9"/>
<circle cx="151.4" cy="267.2" r="0.85" fill="#E9B50C" fill-opacity="0.9"/>
<circle cx="157.4" cy="265.5" r="0.85" fill="#E9B50C" fill-opacity="0.9"/>
<circle cx="163.3" cy="263.3" r="0.85" fill="#E9B50C" fill-opacity="0.9"/>
<circle cx="169.3" cy="259.9" r="0.85" fill="#E9B50C" fill-opacity="0.9"/>
<circle cx="175.2" cy="255.4" r="0.85" fill="#E9B50C" fill-opacity="0.9"/>
<circle cx="181.2" cy="250.6" r="0.85" fill="#E9B50C" fill-opacity="0.9"/>
<circle cx="187.2" cy="244.4" r="0.85" fill="#E9B50C" fill-opacity="0.9"/>
<circle cx="193.1" cy="234.9" r="0.85" fill="#E9B50C" fill-opacity="0.9"/>
<circle cx="199.4" cy="221.8" r="0.85" fill="#E9B50C" fill-opacity="0.9"/>
<polyline points="145.5,268.8 147.2,268.5 148.9,268.1 150.6,267.8 152.3,267.4 154.0,267.0 155.7,266.6 157.4,266.2 159.1,265.7 160.8,265.1 162.5,264.5 164.2,263.7 165.9,262.9 167.6,261.8 169.3,260.7 171.0,259.5 172.7,258.2 174.4,256.8 176.1,255.5 177.8,254.2 179.5,252.9 181.2,251.7 182.9,250.3 184.6,248.8 186.3,247.2 188.0,245.2 189.7,243.0 191.4,240.6 193.1,238.1 194.8,235.4 196.5,232.5 198.2,229.5 199.9,226.2 201.6,222.8 203.3,219.0 204.5,216.2" fill="none" stroke="#E9B50C" stroke-width="0.8" stroke-opacity="0.7"/>
<circle cx="145.5" cy="268.8" r="0.85" fill="#E9B50C" fill-opacity="0.9"/>
<circle cx="151.4" cy="267.6" r="0.85" fill="#E9B50C" fill-opacity="0.9"/>
<circle cx="157.4" cy="266.2" r="0.85" fill="#E9B50C" fill-opacity="0.9"/>
<circle cx="163.3" cy="264.1" r="0.85" fill="#E9B50C" fill-opacity="0.9"/>
<circle cx="169.3" cy="260.7" r="0.85" fill="#E9B50C" fill-opacity="0.9"/>
<circle cx="175.2" cy="256.2" r="0.85" fill="#E9B50C" fill-opacity="0.9"/>
<circle cx="181.2" cy="251.7" r="0.85" fill="#E9B50C" fill-opacity="0.9"/>
<circle cx="187.2" cy="246.2" r="0.85" fill="#E9B50C" fill-opacity="0.9"/>
<circle cx="193.1" cy="238.1" r="0.85" fill="#E9B50C" fill-opacity="0.9"/>
<circle cx="199.1" cy="227.9" r="0.85" fill="#E9B50C" fill-opacity="0.9"/>
<circle cx="204.5" cy="216.2" r="0.85" fill="#E9B50C" fill-opacity="0.9"/>
<polyline points="145.5,268.9 147.2,268.6 148.9,268.3 150.6,268.0 152.3,267.7 154.0,267.3 155.7,267.0 157.4,266.6 159.1,266.1 160.8,265.6 162.5,265.1 164.2,264.4 165.9,263.6 167.6,262.6 169.3,261.5 171.0,260.3 172.7,259.1 174.4,257.8 176.1,256.5 177.8,255.3 179.5,254.2 181.2,253.0 182.9,251.9 184.6,250.6 186.3,249.1 188.0,247.4 189.7,245.5 191.4,243.4 193.1,241.1 194.8,238.8 196.5,236.4 198.2,233.7 199.9,231.0 201.6,228.0 203.3,224.8 204.5,222.4" fill="none" stroke="#E9B50C" stroke-width="0.8" stroke-opacity="0.7"/>
<circle cx="145.5" cy="268.9" r="0.85" fill="#E9B50C" fill-opacity="0.9"/>
<circle cx="151.4" cy="267.8" r="0.85" fill="#E9B50C" fill-opacity="0.9"/>
<circle cx="157.4" cy="266.6" r="0.85" fill="#E9B50C" fill-opacity="0.9"/>
<circle cx="163.3" cy="264.8" r="0.85" fill="#E9B50C" fill-opacity="0.9"/>
<circle cx="169.3" cy="261.5" r="0.85" fill="#E9B50C" fill-opacity="0.9"/>
<circle cx="175.2" cy="257.1" r="0.85" fill="#E9B50C" fill-opacity="0.9"/>
<circle cx="181.2" cy="253.0" r="0.85" fill="#E9B50C" fill-opacity="0.9"/>
<circle cx="187.2" cy="248.3" r="0.85" fill="#E9B50C" fill-opacity="0.9"/>
<circle cx="193.1" cy="241.1" r="0.85" fill="#E9B50C" fill-opacity="0.9"/>
<circle cx="199.1" cy="232.4" r="0.85" fill="#E9B50C" fill-opacity="0.9"/>
<circle cx="204.5" cy="222.4" r="0.85" fill="#E9B50C" fill-opacity="0.9"/>
<polyline points="145.5,269.0 147.2,268.7 148.9,268.4 150.6,268.2 152.3,267.9 154.0,267.6 155.7,267.2 157.4,266.8 159.1,266.4 160.8,266.0 162.5,265.5 164.2,264.9 165.9,264.1 167.6,263.3 169.3,262.3 171.0,261.3 172.7,260.2 174.4,259.0 176.1,257.9 177.8,256.9 179.5,255.8 181.2,254.8 182.9,253.7 184.6,252.5 186.3,251.1 188.0,249.4 189.7,247.5 191.4,245.3 193.1,243.2 194.8,240.9 196.5,238.6 198.2,236.1 199.9,233.6 201.6,230.8 203.3,227.9 205.0,224.8 206.7,221.5 208.4,218.0 209.4,215.7" fill="none" stroke="#E9B50C" stroke-width="0.8" stroke-opacity="0.7"/>
<circle cx="145.5" cy="269.0" r="0.85" fill="#E9B50C" fill-opacity="0.9"/>
<circle cx="151.4" cy="268.0" r="0.85" fill="#E9B50C" fill-opacity="0.9"/>
<circle cx="157.4" cy="266.8" r="0.85" fill="#E9B50C" fill-opacity="0.9"/>
<circle cx="163.3" cy="265.2" r="0.85" fill="#E9B50C" fill-opacity="0.9"/>
<circle cx="169.3" cy="262.3" r="0.85" fill="#E9B50C" fill-opacity="0.9"/>
<circle cx="175.2" cy="258.5" r="0.85" fill="#E9B50C" fill-opacity="0.9"/>
<circle cx="181.2" cy="254.8" r="0.85" fill="#E9B50C" fill-opacity="0.9"/>
<circle cx="187.2" cy="250.3" r="0.85" fill="#E9B50C" fill-opacity="0.9"/>
<circle cx="193.1" cy="243.2" r="0.85" fill="#E9B50C" fill-opacity="0.9"/>
<circle cx="199.1" cy="234.9" r="0.85" fill="#E9B50C" fill-opacity="0.9"/>
<circle cx="205.0" cy="224.8" r="0.85" fill="#E9B50C" fill-opacity="0.9"/>
<circle cx="209.4" cy="215.7" r="0.85" fill="#E9B50C" fill-opacity="0.9"/>
<polyline points="145.5,269.1 147.2,268.8 148.9,268.6 150.6,268.3 152.3,268.0 154.0,267.8 155.7,267.4 157.4,267.1 159.1,266.7 160.8,266.3 162.5,265.9 164.2,265.3 165.9,264.7 167.6,264.0 169.3,263.2 171.0,262.4 172.7,261.5 174.4,260.5 176.1,259.6 177.8,258.6 179.5,257.6 181.2,256.6 182.9,255.6 184.6,254.4 186.3,253.1 188.0,251.5 189.7,249.6 191.4,247.6 193.1,245.6 194.8,243.7 196.5,241.6 198.2,239.6 199.9,237.5 201.6,235.3 203.3,232.9 205.0,230.5 206.7,227.9 208.4,225.1 209.9,222.4" fill="none" stroke="#E9B50C" stroke-width="0.8" stroke-opacity="0.7"/>
<circle cx="145.5" cy="269.1" r="0.85" fill="#E9B50C" fill-opacity="0.9"/>
<circle cx="151.4" cy="268.2" r="0.85" fill="#E9B50C" fill-opacity="0.9"/>
<circle cx="157.4" cy="267.1" r="0.85" fill="#E9B50C" fill-opacity="0.9"/>
<circle cx="163.3" cy="265.6" r="0.85" fill="#E9B50C" fill-opacity="0.9"/>
<circle cx="169.3" cy="263.2" r="0.85" fill="#E9B50C" fill-opacity="0.9"/>
<circle cx="175.2" cy="260.0" r="0.85" fill="#E9B50C" fill-opacity="0.9"/>
<circle cx="181.2" cy="256.6" r="0.85" fill="#E9B50C" fill-opacity="0.9"/>
<circle cx="187.2" cy="252.3" r="0.85" fill="#E9B50C" fill-opacity="0.9"/>
<circle cx="193.1" cy="245.6" r="0.85" fill="#E9B50C" fill-opacity="0.9"/>
<circle cx="199.1" cy="238.5" r="0.85" fill="#E9B50C" fill-opacity="0.9"/>
<circle cx="205.0" cy="230.5" r="0.85" fill="#E9B50C" fill-opacity="0.9"/>
<circle cx="209.9" cy="222.4" r="0.85" fill="#E9B50C" fill-opacity="0.9"/>
<polyline points="145.5,269.3 147.2,269.1 148.9,268.8 150.6,268.6 152.3,268.4 154.0,268.1 155.7,267.9 157.4,267.6 159.1,267.3 160.8,266.9 162.5,266.6 164.2,266.2 165.9,265.8 167.6,265.3 169.3,264.8 171.0,264.3 172.7,263.7 174.4,263.1 176.1,262.4 177.8,261.7 179.5,260.9 181.2,260.0 182.9,259.1 184.6,258.1 186.3,257.0 188.0,255.7 189.7,254.3 191.4,252.7 193.1,251.2 194.8,249.8 196.5,248.4 198.2,246.8 199.9,245.0 201.6,242.9 203.3,240.5 205.0,238.3 206.7,236.2 208.4,234.2 210.1,231.8 211.8,228.8 213.5,225.1 215.2,221.0 216.2,218.4" fill="none" stroke="#E9B50C" stroke-width="0.8" stroke-opacity="0.7"/>
<circle cx="145.5" cy="269.3" r="0.85" fill="#E9B50C" fill-opacity="0.9"/>
<circle cx="151.4" cy="268.5" r="0.85" fill="#E9B50C" fill-opacity="0.9"/>
<circle cx="157.4" cy="267.6" r="0.85" fill="#E9B50C" fill-opacity="0.9"/>
<circle cx="163.3" cy="266.4" r="0.85" fill="#E9B50C" fill-opacity="0.9"/>
<circle cx="169.3" cy="264.8" r="0.85" fill="#E9B50C" fill-opacity="0.9"/>
<circle cx="175.2" cy="262.7" r="0.85" fill="#E9B50C" fill-opacity="0.9"/>
<circle cx="181.2" cy="260.0" r="0.85" fill="#E9B50C" fill-opacity="0.9"/>
<circle cx="187.2" cy="256.4" r="0.85" fill="#E9B50C" fill-opacity="0.9"/>
<circle cx="193.1" cy="251.2" r="0.85" fill="#E9B50C" fill-opacity="0.9"/>
<circle cx="199.1" cy="246.0" r="0.85" fill="#E9B50C" fill-opacity="0.9"/>
<circle cx="205.0" cy="238.3" r="0.85" fill="#E9B50C" fill-opacity="0.9"/>
<circle cx="210.9" cy="230.4" r="0.85" fill="#E9B50C" fill-opacity="0.9"/>
<circle cx="216.2" cy="218.4" r="0.85" fill="#E9B50C" fill-opacity="0.9"/>
<polyline points="145.5,268.7 147.2,268.3 148.9,268.0 150.6,267.6 152.3,267.2 154.0,266.8 155.7,266.3 157.4,265.8 159.1,265.3 160.8,264.7 162.5,264.1 164.2,263.3 165.9,262.5 167.6,261.6 169.3,260.6 171.0,259.5 172.7,258.3 174.4,257.1 176.1,255.9 177.8,254.7 179.5,253.6 181.2,252.4 182.9,251.1 184.6,249.7 186.3,248.1 188.0,246.3 189.7,244.1 191.4,241.6 193.1,239.1 194.8,236.4 196.5,233.5 198.2,230.4 199.9,227.1 201.6,223.5" fill="none" stroke="#E9B50C" stroke-width="0.8" stroke-opacity="0.7"/>
<circle cx="145.5" cy="268.7" r="0.85" fill="#E9B50C" fill-opacity="0.9"/>
<circle cx="151.4" cy="267.4" r="0.85" fill="#E9B50C" fill-opacity="0.9"/>
<circle cx="157.4" cy="265.8" r="0.85" fill="#E9B50C" fill-opacity="0.9"/>
<circle cx="163.3" cy="263.7" r="0.85" fill="#E9B50C" fill-opacity="0.9"/>
<circle cx="169.3" cy="260.6" r="0.85" fill="#E9B50C" fill-opacity="0.9"/>
<circle cx="175.2" cy="256.5" r="0.85" fill="#E9B50C" fill-opacity="0.9"/>
<circle cx="181.2" cy="252.4" r="0.85" fill="#E9B50C" fill-opacity="0.9"/>
<circle cx="187.2" cy="247.2" r="0.85" fill="#E9B50C" fill-opacity="0.9"/>
<circle cx="193.1" cy="239.1" r="0.85" fill="#E9B50C" fill-opacity="0.9"/>
<circle cx="199.1" cy="228.8" r="0.85" fill="#E9B50C" fill-opacity="0.9"/>
<circle cx="201.6" cy="223.5" r="0.85" fill="#E9B50C" fill-opacity="0.9"/>
<polyline points="49.6,341.6 51.3,341.3 53.0,340.9 54.7,340.5 56.4,340.1 58.1,339.6 59.8,339.0 61.5,338.3 63.2,337.5 64.9,336.6 66.6,335.7 68.3,334.7 70.0,333.6 71.7,332.4 73.4,331.1 75.1,329.7 76.8,328.3 78.5,326.7 80.2,325.0 81.9,323.1 83.6,321.0 85.3,318.7 87.0,316.4 88.7,314.1 90.4,311.4 92.1,308.4 93.8,304.8 95.5,300.8 97.2,296.4" fill="none" stroke="#6e6e6e" stroke-width="0.7" stroke-opacity="0.5"/>
<circle cx="49.6" cy="341.6" r="0.75" fill="#6e6e6e" fill-opacity="0.9"/>
<circle cx="55.6" cy="340.3" r="0.75" fill="#6e6e6e" fill-opacity="0.9"/>
<circle cx="61.5" cy="338.3" r="0.75" fill="#6e6e6e" fill-opacity="0.9"/>
<circle cx="67.5" cy="335.2" r="0.75" fill="#6e6e6e" fill-opacity="0.9"/>
<circle cx="73.4" cy="331.1" r="0.75" fill="#6e6e6e" fill-opacity="0.9"/>
<circle cx="79.3" cy="325.9" r="0.75" fill="#6e6e6e" fill-opacity="0.9"/>
<circle cx="85.3" cy="318.7" r="0.75" fill="#6e6e6e" fill-opacity="0.9"/>
<circle cx="91.2" cy="310.0" r="0.75" fill="#6e6e6e" fill-opacity="0.9"/>
<circle cx="97.2" cy="296.4" r="0.75" fill="#6e6e6e" fill-opacity="0.9"/>
<polyline points="49.6,342.2 51.3,341.9 53.0,341.5 54.7,341.1 56.4,340.7 58.1,340.2 59.8,339.7 61.5,339.1 63.2,338.4 64.9,337.7 66.6,336.9 68.3,336.0 70.0,334.9 71.7,333.8 73.4,332.6 75.1,331.5 76.8,330.4 78.5,329.3 80.2,328.0 81.9,326.5 83.6,324.9 85.3,323.2 87.0,321.5 88.7,319.8 90.4,317.9 92.1,315.8 93.8,313.3 95.5,310.5 97.2,307.4 98.9,303.9 100.6,299.9 102.3,295.5 103.7,291.7" fill="none" stroke="#6e6e6e" stroke-width="0.7" stroke-opacity="0.5"/>
<circle cx="49.6" cy="342.2" r="0.75" fill="#6e6e6e" fill-opacity="0.9"/>
<circle cx="55.6" cy="340.9" r="0.75" fill="#6e6e6e" fill-opacity="0.9"/>
<circle cx="61.5" cy="339.1" r="0.75" fill="#6e6e6e" fill-opacity="0.9"/>
<circle cx="67.5" cy="336.4" r="0.75" fill="#6e6e6e" fill-opacity="0.9"/>
<circle cx="73.4" cy="332.6" r="0.75" fill="#6e6e6e" fill-opacity="0.9"/>
<circle cx="79.3" cy="328.7" r="0.75" fill="#6e6e6e" fill-opacity="0.9"/>
<circle cx="85.3" cy="323.2" r="0.75" fill="#6e6e6e" fill-opacity="0.9"/>
<circle cx="91.2" cy="316.9" r="0.75" fill="#6e6e6e" fill-opacity="0.9"/>
<circle cx="97.2" cy="307.4" r="0.75" fill="#6e6e6e" fill-opacity="0.9"/>
<circle cx="103.7" cy="291.7" r="0.75" fill="#6e6e6e" fill-opacity="0.9"/>
<polyline points="49.6,342.6 51.3,342.3 53.0,342.0 54.7,341.7 56.4,341.3 58.1,340.8 59.8,340.3 61.5,339.8 63.2,339.1 64.9,338.4 66.6,337.7 68.3,336.8 70.0,335.9 71.7,334.9 73.4,333.8 75.1,332.8 76.8,331.7 78.5,330.6 80.2,329.4 81.9,328.1 83.6,326.7 85.3,325.2 87.0,323.4 88.7,321.4 90.4,319.3 92.1,317.0 93.8,314.7 95.5,312.1 97.2,309.2 98.9,306.0 100.6,302.4 102.3,298.3 104.0,293.9" fill="none" stroke="#6e6e6e" stroke-width="0.7" stroke-opacity="0.5"/>
<circle cx="49.6" cy="342.6" r="0.75" fill="#6e6e6e" fill-opacity="0.9"/>
<circle cx="55.6" cy="341.5" r="0.75" fill="#6e6e6e" fill-opacity="0.9"/>
<circle cx="61.5" cy="339.8" r="0.75" fill="#6e6e6e" fill-opacity="0.9"/>
<circle cx="67.5" cy="337.3" r="0.75" fill="#6e6e6e" fill-opacity="0.9"/>
<circle cx="73.4" cy="333.8" r="0.75" fill="#6e6e6e" fill-opacity="0.9"/>
<circle cx="79.3" cy="330.0" r="0.75" fill="#6e6e6e" fill-opacity="0.9"/>
<circle cx="85.3" cy="325.2" r="0.75" fill="#6e6e6e" fill-opacity="0.9"/>
<circle cx="91.2" cy="318.2" r="0.75" fill="#6e6e6e" fill-opacity="0.9"/>
<circle cx="97.2" cy="309.2" r="0.75" fill="#6e6e6e" fill-opacity="0.9"/>
<circle cx="104.0" cy="293.9" r="0.75" fill="#6e6e6e" fill-opacity="0.9"/>
<polyline points="49.6,343.0 51.3,342.7 53.0,342.5 54.7,342.2 56.4,341.9 58.1,341.5 59.8,341.0 61.5,340.5 63.2,340.0 64.9,339.3 66.6,338.7 68.3,337.9 70.0,337.1 71.7,336.2 73.4,335.4 75.1,334.5 76.8,333.7 78.5,332.9 80.2,332.0 81.9,331.1 83.6,330.1 85.3,329.1 87.0,328.2 88.7,327.3 90.4,326.2 92.1,324.8 93.8,323.1 95.5,321.2 97.2,319.2 98.9,316.9 100.6,314.4 102.3,311.7 104.0,308.9 105.7,306.3 107.4,303.6 109.1,300.3 110.8,296.4 112.5,291.9 114.0,287.5" fill="none" stroke="#6e6e6e" stroke-width="0.7" stroke-opacity="0.5"/>
<circle cx="49.6" cy="343.0" r="0.75" fill="#6e6e6e" fill-opacity="0.9"/>
<circle cx="55.6" cy="342.0" r="0.75" fill="#6e6e6e" fill-opacity="0.9"/>
<circle cx="61.5" cy="340.5" r="0.75" fill="#6e6e6e" fill-opacity="0.9"/>
<circle cx="67.5" cy="338.3" r="0.75" fill="#6e6e6e" fill-opacity="0.9"/>
<circle cx="73.4" cy="335.4" r="0.75" fill="#6e6e6e" fill-opacity="0.9"/>
<circle cx="79.3" cy="332.4" r="0.75" fill="#6e6e6e" fill-opacity="0.9"/>
<circle cx="85.3" cy="329.1" r="0.75" fill="#6e6e6e" fill-opacity="0.9"/>
<circle cx="91.2" cy="325.5" r="0.75" fill="#6e6e6e" fill-opacity="0.9"/>
<circle cx="97.2" cy="319.2" r="0.75" fill="#6e6e6e" fill-opacity="0.9"/>
<circle cx="103.2" cy="310.3" r="0.75" fill="#6e6e6e" fill-opacity="0.9"/>
<circle cx="109.1" cy="300.3" r="0.75" fill="#6e6e6e" fill-opacity="0.9"/>
<circle cx="114.0" cy="287.5" r="0.75" fill="#6e6e6e" fill-opacity="0.9"/>
<polyline points="49.6,343.6 51.3,343.3 53.0,343.1 54.7,342.8 56.4,342.5 58.1,342.1 59.8,341.7 61.5,341.3 63.2,340.8 64.9,340.2 66.6,339.7 68.3,339.0 70.0,338.2 71.7,337.4 73.4,336.6 75.1,335.7 76.8,334.9 78.5,334.1 80.2,333.2 81.9,332.3 83.6,331.5 85.3,330.6 87.0,329.7 88.7,328.6 90.4,327.5 92.1,326.1 93.8,324.6 95.5,322.9 97.2,321.0 98.9,318.9 100.6,316.6 102.3,314.0 104.0,311.5 105.7,309.0 107.4,306.4 109.1,303.3 110.8,299.6 112.5,295.3 114.0,291.2" fill="none" stroke="#6e6e6e" stroke-width="0.7" stroke-opacity="0.5"/>
<circle cx="49.6" cy="343.6" r="0.75" fill="#6e6e6e" fill-opacity="0.9"/>
<circle cx="55.6" cy="342.6" r="0.75" fill="#6e6e6e" fill-opacity="0.9"/>
<circle cx="61.5" cy="341.3" r="0.75" fill="#6e6e6e" fill-opacity="0.9"/>
<circle cx="67.5" cy="339.3" r="0.75" fill="#6e6e6e" fill-opacity="0.9"/>
<circle cx="73.4" cy="336.6" r="0.75" fill="#6e6e6e" fill-opacity="0.9"/>
<circle cx="79.3" cy="333.6" r="0.75" fill="#6e6e6e" fill-opacity="0.9"/>
<circle cx="85.3" cy="330.6" r="0.75" fill="#6e6e6e" fill-opacity="0.9"/>
<circle cx="91.2" cy="326.8" r="0.75" fill="#6e6e6e" fill-opacity="0.9"/>
<circle cx="97.2" cy="321.0" r="0.75" fill="#6e6e6e" fill-opacity="0.9"/>
<circle cx="103.2" cy="312.8" r="0.75" fill="#6e6e6e" fill-opacity="0.9"/>
<circle cx="109.1" cy="303.3" r="0.75" fill="#6e6e6e" fill-opacity="0.9"/>
<circle cx="114.0" cy="291.2" r="0.75" fill="#6e6e6e" fill-opacity="0.9"/>
<polyline points="49.6,344.2 51.3,343.9 53.0,343.7 54.7,343.4 56.4,343.1 58.1,342.7 59.8,342.3 61.5,341.9 63.2,341.5 64.9,341.0 66.6,340.5 68.3,339.9 70.0,339.2 71.7,338.5 73.4,337.8 75.1,337.0 76.8,336.1 78.5,335.3 80.2,334.4 81.9,333.5 83.6,332.7 85.3,331.8 87.0,330.8 88.7,329.8 90.4,328.7 92.1,327.4 93.8,325.9 95.5,324.3 97.2,322.7 98.9,320.9 100.6,318.9 102.3,316.8 104.0,314.5 105.7,312.1 107.4,309.4 109.1,306.4 110.8,302.9 112.5,298.9 114.0,295.1" fill="none" stroke="#6e6e6e" stroke-width="0.7" stroke-opacity="0.5"/>
<circle cx="49.6" cy="344.2" r="0.75" fill="#6e6e6e" fill-opacity="0.9"/>
<circle cx="55.6" cy="343.2" r="0.75" fill="#6e6e6e" fill-opacity="0.9"/>
<circle cx="61.5" cy="341.9" r="0.75" fill="#6e6e6e" fill-opacity="0.9"/>
<circle cx="67.5" cy="340.2" r="0.75" fill="#6e6e6e" fill-opacity="0.9"/>
<circle cx="73.4" cy="337.8" r="0.75" fill="#6e6e6e" fill-opacity="0.9"/>
<circle cx="79.3" cy="334.8" r="0.75" fill="#6e6e6e" fill-opacity="0.9"/>
<circle cx="85.3" cy="331.8" r="0.75" fill="#6e6e6e" fill-opacity="0.9"/>
<circle cx="91.2" cy="328.0" r="0.75" fill="#6e6e6e" fill-opacity="0.9"/>
<circle cx="97.2" cy="322.7" r="0.75" fill="#6e6e6e" fill-opacity="0.9"/>
<circle cx="103.2" cy="315.7" r="0.75" fill="#6e6e6e" fill-opacity="0.9"/>
<circle cx="109.1" cy="306.4" r="0.75" fill="#6e6e6e" fill-opacity="0.9"/>
<circle cx="114.0" cy="295.1" r="0.75" fill="#6e6e6e" fill-opacity="0.9"/>
<polyline points="49.6,345.2 51.3,345.0 53.0,344.8 54.7,344.5 56.4,344.3 58.1,344.0 59.8,343.6 61.5,343.3 63.2,342.9 64.9,342.4 66.6,342.0 68.3,341.7 70.0,341.3 71.7,340.9 73.4,340.5 75.1,340.0 76.8,339.5 78.5,338.9 80.2,338.3 81.9,337.7 83.6,337.0 85.3,336.3 87.0,335.3 88.7,334.1 90.4,332.9 92.1,331.8 93.8,330.7 95.5,329.6 97.2,328.5 98.9,327.4 100.6,326.1 102.3,324.8 104.0,323.4 105.7,321.8 107.4,320.0 109.1,318.2 110.8,316.2 112.5,314.0 114.2,311.7 115.9,309.2 117.6,306.5 119.3,303.6 121.0,300.5 121.3,299.8" fill="none" stroke="#6e6e6e" stroke-width="0.7" stroke-opacity="0.5"/>
<circle cx="49.6" cy="345.2" r="0.75" fill="#6e6e6e" fill-opacity="0.9"/>
<circle cx="55.6" cy="344.4" r="0.75" fill="#6e6e6e" fill-opacity="0.9"/>
<circle cx="61.5" cy="343.3" r="0.75" fill="#6e6e6e" fill-opacity="0.9"/>
<circle cx="67.5" cy="341.8" r="0.75" fill="#6e6e6e" fill-opacity="0.9"/>
<circle cx="73.4" cy="340.5" r="0.75" fill="#6e6e6e" fill-opacity="0.9"/>
<circle cx="79.3" cy="338.6" r="0.75" fill="#6e6e6e" fill-opacity="0.9"/>
<circle cx="85.3" cy="336.3" r="0.75" fill="#6e6e6e" fill-opacity="0.9"/>
<circle cx="91.2" cy="332.3" r="0.75" fill="#6e6e6e" fill-opacity="0.9"/>
<circle cx="97.2" cy="328.5" r="0.75" fill="#6e6e6e" fill-opacity="0.9"/>
<circle cx="103.2" cy="324.1" r="0.75" fill="#6e6e6e" fill-opacity="0.9"/>
<circle cx="109.1" cy="318.2" r="0.75" fill="#6e6e6e" fill-opacity="0.9"/>
<circle cx="115.1" cy="310.4" r="0.75" fill="#6e6e6e" fill-opacity="0.9"/>
<circle cx="121.3" cy="299.8" r="0.75" fill="#6e6e6e" fill-opacity="0.9"/>
<polyline points="145.5,343.6 147.2,343.5 148.9,343.4 150.6,343.2 152.3,343.1 154.0,343.0 155.7,342.9 157.4,342.7 159.1,342.6 160.8,342.4 162.5,342.2 164.2,342.0 165.9,341.7 167.6,341.3 169.3,341.0 171.0,340.5 172.7,340.1 174.4,339.6 176.1,339.1 177.8,338.5 179.5,338.0 181.2,337.5 182.9,336.9 184.6,336.4 186.3,335.8 188.0,335.2 189.7,334.5 191.4,333.7 193.1,332.9 194.8,331.9 196.5,330.8 198.2,329.6 199.9,328.3 201.6,327.0 203.3,325.5 205.0,324.0 206.7,322.4 208.4,320.7 210.1,318.8 211.8,316.5 213.5,313.9 215.2,311.1 216.9,307.9 218.6,304.4 220.3,300.6 222.0,296.3 223.4,292.6" fill="none" stroke="#CD3030" stroke-width="0.7" stroke-opacity="0.5"/>
<circle cx="145.5" cy="343.6" r="0.75" fill="#CD3030" fill-opacity="0.9"/>
<circle cx="151.4" cy="343.2" r="0.75" fill="#CD3030" fill-opacity="0.9"/>
<circle cx="157.4" cy="342.7" r="0.75" fill="#CD3030" fill-opacity="0.9"/>
<circle cx="163.3" cy="342.1" r="0.75" fill="#CD3030" fill-opacity="0.9"/>
<circle cx="169.3" cy="341.0" r="0.75" fill="#CD3030" fill-opacity="0.9"/>
<circle cx="175.2" cy="339.3" r="0.75" fill="#CD3030" fill-opacity="0.9"/>
<circle cx="181.2" cy="337.5" r="0.75" fill="#CD3030" fill-opacity="0.9"/>
<circle cx="187.2" cy="335.5" r="0.75" fill="#CD3030" fill-opacity="0.9"/>
<circle cx="193.1" cy="332.9" r="0.75" fill="#CD3030" fill-opacity="0.9"/>
<circle cx="199.1" cy="329.0" r="0.75" fill="#CD3030" fill-opacity="0.9"/>
<circle cx="205.0" cy="324.0" r="0.75" fill="#CD3030" fill-opacity="0.9"/>
<circle cx="210.9" cy="317.7" r="0.75" fill="#CD3030" fill-opacity="0.9"/>
<circle cx="216.9" cy="307.9" r="0.75" fill="#CD3030" fill-opacity="0.9"/>
<circle cx="223.4" cy="292.6" r="0.75" fill="#CD3030" fill-opacity="0.9"/>
<polyline points="145.5,343.8 147.2,343.7 148.9,343.6 150.6,343.5 152.3,343.4 154.0,343.3 155.7,343.2 157.4,343.1 159.1,342.9 160.8,342.8 162.5,342.6 164.2,342.4 165.9,342.1 167.6,341.9 169.3,341.5 171.0,341.2 172.7,340.8 174.4,340.4 176.1,340.0 177.8,339.6 179.5,339.2 181.2,338.9 182.9,338.6 184.6,338.3 186.3,338.0 188.0,337.7 189.7,337.4 191.4,337.0 193.1,336.6 194.8,336.2 196.5,335.6 198.2,334.8 199.9,333.6 201.6,332.2 203.3,330.7 205.0,329.6 206.7,328.5 208.4,327.5 210.1,326.5 211.8,325.6 213.5,324.5 215.2,323.3 216.9,321.9 218.6,320.3 220.3,318.4 222.0,316.3 223.7,314.0 225.4,311.4 227.1,308.7 228.8,305.7 230.0,303.6" fill="none" stroke="#CD3030" stroke-width="0.7" stroke-opacity="0.5"/>
<circle cx="145.5" cy="343.8" r="0.75" fill="#CD3030" fill-opacity="0.9"/>
<circle cx="151.4" cy="343.4" r="0.75" fill="#CD3030" fill-opacity="0.9"/>
<circle cx="157.4" cy="343.1" r="0.75" fill="#CD3030" fill-opacity="0.9"/>
<circle cx="163.3" cy="342.5" r="0.75" fill="#CD3030" fill-opacity="0.9"/>
<circle cx="169.3" cy="341.5" r="0.75" fill="#CD3030" fill-opacity="0.9"/>
<circle cx="175.2" cy="340.2" r="0.75" fill="#CD3030" fill-opacity="0.9"/>
<circle cx="181.2" cy="338.9" r="0.75" fill="#CD3030" fill-opacity="0.9"/>
<circle cx="187.2" cy="337.8" r="0.75" fill="#CD3030" fill-opacity="0.9"/>
<circle cx="193.1" cy="336.6" r="0.75" fill="#CD3030" fill-opacity="0.9"/>
<circle cx="199.1" cy="334.2" r="0.75" fill="#CD3030" fill-opacity="0.9"/>
<circle cx="205.0" cy="329.6" r="0.75" fill="#CD3030" fill-opacity="0.9"/>
<circle cx="210.9" cy="326.1" r="0.75" fill="#CD3030" fill-opacity="0.9"/>
<circle cx="216.9" cy="321.9" r="0.75" fill="#CD3030" fill-opacity="0.9"/>
<circle cx="222.8" cy="315.2" r="0.75" fill="#CD3030" fill-opacity="0.9"/>
<circle cx="230.0" cy="303.6" r="0.75" fill="#CD3030" fill-opacity="0.9"/>
<polyline points="145.5,344.0 147.2,343.9 148.9,343.8 150.6,343.7 152.3,343.6 154.0,343.5 155.7,343.4 157.4,343.2 159.1,343.1 160.8,343.0 162.5,342.8 164.2,342.6 165.9,342.4 167.6,342.2 169.3,341.9 171.0,341.6 172.7,341.3 174.4,341.0 176.1,340.7 177.8,340.3 179.5,340.0 181.2,339.7 182.9,339.4 184.6,339.1 186.3,338.8 188.0,338.5 189.7,338.2 191.4,337.8 193.1,337.4 194.8,337.0 196.5,336.4 198.2,335.6 199.9,334.5 201.6,333.2 203.3,331.9 205.0,330.8 206.7,329.8 208.4,328.8 210.1,327.9 211.8,326.9 213.5,325.9 215.2,324.8 216.9,323.5 218.6,321.9 220.3,320.2 222.0,318.2 223.7,316.1 225.4,313.8 227.1,311.3 228.8,308.6 230.0,306.7" fill="none" stroke="#CD3030" stroke-width="0.7" stroke-opacity="0.5"/>
<circle cx="145.5" cy="344.0" r="0.75" fill="#CD3030" fill-opacity="0.9"/>
<circle cx="151.4" cy="343.6" r="0.75" fill="#CD3030" fill-opacity="0.9"/>
<circle cx="157.4" cy="343.2" r="0.75" fill="#CD3030" fill-opacity="0.9"/>
<circle cx="163.3" cy="342.7" r="0.75" fill="#CD3030" fill-opacity="0.9"/>
<circle cx="169.3" cy="341.9" r="0.75" fill="#CD3030" fill-opacity="0.9"/>
<circle cx="175.2" cy="340.8" r="0.75" fill="#CD3030" fill-opacity="0.9"/>
<circle cx="181.2" cy="339.7" r="0.75" fill="#CD3030" fill-opacity="0.9"/>
<circle cx="187.2" cy="338.7" r="0.75" fill="#CD3030" fill-opacity="0.9"/>
<circle cx="193.1" cy="337.4" r="0.75" fill="#CD3030" fill-opacity="0.9"/>
<circle cx="199.1" cy="335.1" r="0.75" fill="#CD3030" fill-opacity="0.9"/>
<circle cx="205.0" cy="330.8" r="0.75" fill="#CD3030" fill-opacity="0.9"/>
<circle cx="210.9" cy="327.4" r="0.75" fill="#CD3030" fill-opacity="0.9"/>
<circle cx="216.9" cy="323.5" r="0.75" fill="#CD3030" fill-opacity="0.9"/>
<circle cx="222.8" cy="317.2" r="0.75" fill="#CD3030" fill-opacity="0.9"/>
<circle cx="230.0" cy="306.7" r="0.75" fill="#CD3030" fill-opacity="0.9"/>
<polyline points="145.5,343.7 147.2,343.6 148.9,343.6 150.6,343.5 152.3,343.5 154.0,343.4 155.7,343.3 157.4,343.3 159.1,343.2 160.8,343.1 162.5,343.0 164.2,342.9 165.9,342.7 167.6,342.5 169.3,342.2 171.0,342.0 172.7,341.7 174.4,341.3 176.1,341.0 177.8,340.7 179.5,340.4 181.2,340.1 182.9,339.9 184.6,339.6 186.3,339.4 188.0,339.1 189.7,338.8 191.4,338.5 193.1,338.1 194.8,337.7 196.5,337.2 198.2,336.5 199.9,335.4 201.6,334.1 203.3,332.9 205.0,331.8 206.7,330.8 208.4,329.9 210.1,329.0 211.8,328.1 213.5,327.2 215.2,326.1 216.9,324.9 218.6,323.4 220.3,321.8 222.0,320.0 223.7,318.0 225.4,315.9 227.1,313.6 228.8,311.2 230.0,309.4" fill="none" stroke="#CD3030" stroke-width="0.7" stroke-opacity="0.5"/>
<circle cx="145.5" cy="343.7" r="0.75" fill="#CD3030" fill-opacity="0.9"/>
<circle cx="151.4" cy="343.5" r="0.75" fill="#CD3030" fill-opacity="0.9"/>
<circle cx="157.4" cy="343.3" r="0.75" fill="#CD3030" fill-opacity="0.9"/>
<circle cx="163.3" cy="342.9" r="0.75" fill="#CD3030" fill-opacity="0.9"/>
<circle cx="169.3" cy="342.2" r="0.75" fill="#CD3030" fill-opacity="0.9"/>
<circle cx="175.2" cy="341.2" r="0.75" fill="#CD3030" fill-opacity="0.9"/>
<circle cx="181.2" cy="340.1" r="0.75" fill="#CD3030" fill-opacity="0.9"/>
<circle cx="187.2" cy="339.2" r="0.75" fill="#CD3030" fill-opacity="0.9"/>
<circle cx="193.1" cy="338.1" r="0.75" fill="#CD3030" fill-opacity="0.9"/>
<circle cx="199.1" cy="336.0" r="0.75" fill="#CD3030" fill-opacity="0.9"/>
<circle cx="205.0" cy="331.8" r="0.75" fill="#CD3030" fill-opacity="0.9"/>
<circle cx="210.9" cy="328.6" r="0.75" fill="#CD3030" fill-opacity="0.9"/>
<circle cx="216.9" cy="324.9" r="0.75" fill="#CD3030" fill-opacity="0.9"/>
<circle cx="222.8" cy="319.0" r="0.75" fill="#CD3030" fill-opacity="0.9"/>
<circle cx="230.0" cy="309.4" r="0.75" fill="#CD3030" fill-opacity="0.9"/>
<polyline points="145.5,344.2 147.2,344.1 148.9,344.0 150.6,343.9 152.3,343.8 154.0,343.8 155.7,343.7 157.4,343.6 159.1,343.5 160.8,343.3 162.5,343.2 164.2,343.1 165.9,342.9 167.6,342.7 169.3,342.5 171.0,342.3 172.7,342.0 174.4,341.8 176.1,341.5 177.8,341.3 179.5,341.0 181.2,340.8 182.9,340.5 184.6,340.3 186.3,340.0 188.0,339.8 189.7,339.5 191.4,339.2 193.1,338.9 194.8,338.5 196.5,338.0 198.2,337.3 199.9,336.3 201.6,335.1 203.3,333.9 205.0,332.8 206.7,331.9 208.4,330.9 210.1,330.0 211.8,329.1 213.5,328.2 215.2,327.1 216.9,325.9 218.6,324.5 220.3,322.9 222.0,321.2 223.7,319.3 225.4,317.3 227.1,315.2 228.8,312.9 230.0,311.2" fill="none" stroke="#CD3030" stroke-width="0.7" stroke-opacity="0.5"/>
<circle cx="145.5" cy="344.2" r="0.75" fill="#CD3030" fill-opacity="0.9"/>
<circle cx="151.4" cy="343.9" r="0.75" fill="#CD3030" fill-opacity="0.9"/>
<circle cx="157.4" cy="343.6" r="0.75" fill="#CD3030" fill-opacity="0.9"/>
<circle cx="163.3" cy="343.1" r="0.75" fill="#CD3030" fill-opacity="0.9"/>
<circle cx="169.3" cy="342.5" r="0.75" fill="#CD3030" fill-opacity="0.9"/>
<circle cx="175.2" cy="341.6" r="0.75" fill="#CD3030" fill-opacity="0.9"/>
<circle cx="181.2" cy="340.8" r="0.75" fill="#CD3030" fill-opacity="0.9"/>
<circle cx="187.2" cy="339.9" r="0.75" fill="#CD3030" fill-opacity="0.9"/>
<circle cx="193.1" cy="338.9" r="0.75" fill="#CD3030" fill-opacity="0.9"/>
<circle cx="199.1" cy="336.8" r="0.75" fill="#CD3030" fill-opacity="0.9"/>
<circle cx="205.0" cy="332.8" r="0.75" fill="#CD3030" fill-opacity="0.9"/>
<circle cx="210.9" cy="329.6" r="0.75" fill="#CD3030" fill-opacity="0.9"/>
<circle cx="216.9" cy="325.9" r="0.75" fill="#CD3030" fill-opacity="0.9"/>
<circle cx="222.8" cy="320.3" r="0.75" fill="#CD3030" fill-opacity="0.9"/>
<circle cx="230.0" cy="311.2" r="0.75" fill="#CD3030" fill-opacity="0.9"/>
<polyline points="145.5,344.0 147.2,343.9 148.9,343.9 150.6,343.8 152.3,343.8 154.0,343.7 155.7,343.7 157.4,343.6 159.1,343.6 160.8,343.5 162.5,343.4 164.2,343.3 165.9,343.2 167.6,343.0 169.3,342.8 171.0,342.6 172.7,342.4 174.4,342.1 176.1,341.9 177.8,341.6 179.5,341.4 181.2,341.2 182.9,341.0 184.6,340.8 186.3,340.6 188.0,340.4 189.7,340.1 191.4,339.9 193.1,339.6 194.8,339.2 196.5,338.8 198.2,338.2 199.9,337.2 201.6,336.1 203.3,335.0 205.0,334.0 206.7,333.2 208.4,332.4 210.1,331.6 211.8,330.8 213.5,329.9 215.2,329.0 216.9,327.9 218.6,326.6 220.3,325.1 222.0,323.5 223.7,321.7 225.4,319.8 227.1,317.7 228.8,315.5 230.0,313.9" fill="none" stroke="#CD3030" stroke-width="0.7" stroke-opacity="0.5"/>
<circle cx="145.5" cy="344.0" r="0.75" fill="#CD3030" fill-opacity="0.9"/>
<circle cx="151.4" cy="343.8" r="0.75" fill="#CD3030" fill-opacity="0.9"/>
<circle cx="157.4" cy="343.6" r="0.75" fill="#CD3030" fill-opacity="0.9"/>
<circle cx="163.3" cy="343.3" r="0.75" fill="#CD3030" fill-opacity="0.9"/>
<circle cx="169.3" cy="342.8" r="0.75" fill="#CD3030" fill-opacity="0.9"/>
<circle cx="175.2" cy="342.0" r="0.75" fill="#CD3030" fill-opacity="0.9"/>
<circle cx="181.2" cy="341.2" r="0.75" fill="#CD3030" fill-opacity="0.9"/>
<circle cx="187.2" cy="340.5" r="0.75" fill="#CD3030" fill-opacity="0.9"/>
<circle cx="193.1" cy="339.6" r="0.75" fill="#CD3030" fill-opacity="0.9"/>
<circle cx="199.1" cy="337.7" r="0.75" fill="#CD3030" fill-opacity="0.9"/>
<circle cx="205.0" cy="334.0" r="0.75" fill="#CD3030" fill-opacity="0.9"/>
<circle cx="210.9" cy="331.2" r="0.75" fill="#CD3030" fill-opacity="0.9"/>
<circle cx="216.9" cy="327.9" r="0.75" fill="#CD3030" fill-opacity="0.9"/>
<circle cx="222.8" cy="322.7" r="0.75" fill="#CD3030" fill-opacity="0.9"/>
<circle cx="230.0" cy="313.9" r="0.75" fill="#CD3030" fill-opacity="0.9"/>
<polyline points="145.5,344.4 147.2,344.3 148.9,344.3 150.6,344.2 152.3,344.2 154.0,344.1 155.7,344.1 157.4,344.0 159.1,344.0 160.8,343.9 162.5,343.8 164.2,343.7 165.9,343.6 167.6,343.4 169.3,343.2 171.0,343.1 172.7,342.9 174.4,342.6 176.1,342.4 177.8,342.2 179.5,342.0 181.2,341.8 182.9,341.6 184.6,341.4 186.3,341.2 188.0,341.0 189.7,340.8 191.4,340.6 193.1,340.3 194.8,340.0 196.5,339.6 198.2,339.1 199.9,338.3 201.6,337.4 203.3,336.5 205.0,335.7 206.7,334.9 208.4,334.1 210.1,333.4 211.8,332.6 213.5,331.7 215.2,330.9 216.9,329.9 218.6,328.9 220.3,327.8 222.0,326.6 223.7,325.4 225.4,324.1 227.1,322.8 228.8,321.4 230.0,320.3" fill="none" stroke="#CD3030" stroke-width="0.7" stroke-opacity="0.5"/>
<circle cx="145.5" cy="344.4" r="0.75" fill="#CD3030" fill-opacity="0.9"/>
<circle cx="151.4" cy="344.2" r="0.75" fill="#CD3030" fill-opacity="0.9"/>
<circle cx="157.4" cy="344.0" r="0.75" fill="#CD3030" fill-opacity="0.9"/>
<circle cx="163.3" cy="343.8" r="0.75" fill="#CD3030" fill-opacity="0.9"/>
<circle cx="169.3" cy="343.2" r="0.75" fill="#CD3030" fill-opacity="0.9"/>
<circle cx="175.2" cy="342.5" r="0.75" fill="#CD3030" fill-opacity="0.9"/>
<circle cx="181.2" cy="341.8" r="0.75" fill="#CD3030" fill-opacity="0.9"/>
<circle cx="187.2" cy="341.1" r="0.75" fill="#CD3030" fill-opacity="0.9"/>
<circle cx="193.1" cy="340.3" r="0.75" fill="#CD3030" fill-opacity="0.9"/>
<circle cx="199.1" cy="338.7" r="0.75" fill="#CD3030" fill-opacity="0.9"/>
<circle cx="205.0" cy="335.7" r="0.75" fill="#CD3030" fill-opacity="0.9"/>
<circle cx="210.9" cy="333.0" r="0.75" fill="#CD3030" fill-opacity="0.9"/>
<circle cx="216.9" cy="329.9" r="0.75" fill="#CD3030" fill-opacity="0.9"/>
<circle cx="222.8" cy="326.0" r="0.75" fill="#CD3030" fill-opacity="0.9"/>
<circle cx="230.0" cy="320.3" r="0.75" fill="#CD3030" fill-opacity="0.9"/>
<polyline points="145.5,344.7 147.2,344.6 148.9,344.6 150.6,344.5 152.3,344.5 154.0,344.4 155.7,344.4 157.4,344.3 159.1,344.3 160.8,344.2 162.5,344.1 164.2,344.0 165.9,343.9 167.6,343.7 169.3,343.6 171.0,343.4 172.7,343.2 174.4,343.0 176.1,342.9 177.8,342.7 179.5,342.5 181.2,342.3 182.9,342.2 184.6,342.1 186.3,341.9 188.0,341.8 189.7,341.6 191.4,341.5 193.1,341.3 194.8,341.1 196.5,340.8 198.2,340.4 199.9,339.8 201.6,339.1 203.3,338.4 205.0,337.7 206.7,337.0 208.4,336.3 210.1,335.6 211.8,334.8 213.5,334.0 215.2,333.2 216.9,332.3 218.6,331.5 220.3,330.6 222.0,329.8 223.7,328.9 225.4,328.0 227.1,327.0 228.8,326.0 230.0,325.3" fill="none" stroke="#CD3030" stroke-width="0.7" stroke-opacity="0.5"/>
<circle cx="145.5" cy="344.7" r="0.75" fill="#CD3030" fill-opacity="0.9"/>
<circle cx="151.4" cy="344.5" r="0.75" fill="#CD3030" fill-opacity="0.9"/>
<circle cx="157.4" cy="344.3" r="0.75" fill="#CD3030" fill-opacity="0.9"/>
<circle cx="163.3" cy="344.1" r="0.75" fill="#CD3030" fill-opacity="0.9"/>
<circle cx="169.3" cy="343.6" r="0.75" fill="#CD3030" fill-opacity="0.9"/>
<circle cx="175.2" cy="343.0" r="0.75" fill="#CD3030" fill-opacity="0.9"/>
<circle cx="181.2" cy="342.3" r="0.75" fill="#CD3030" fill-opacity="0.9"/>
<circle cx="187.2" cy="341.9" r="0.75" fill="#CD3030" fill-opacity="0.9"/>
<circle cx="193.1" cy="341.3" r="0.75" fill="#CD3030" fill-opacity="0.9"/>
<circle cx="199.1" cy="340.1" r="0.75" fill="#CD3030" fill-opacity="0.9"/>
<circle cx="205.0" cy="337.7" r="0.75" fill="#CD3030" fill-opacity="0.9"/>
<circle cx="210.9" cy="335.2" r="0.75" fill="#CD3030" fill-opacity="0.9"/>
<circle cx="216.9" cy="332.3" r="0.75" fill="#CD3030" fill-opacity="0.9"/>
<circle cx="222.8" cy="329.3" r="0.75" fill="#CD3030" fill-opacity="0.9"/>
<circle cx="230.0" cy="325.3" r="0.75" fill="#CD3030" fill-opacity="0.9"/>
<line x1="46.30" y1="9.40" x2="46.30" y2="143.40" stroke="#555555" stroke-width="0.9"/>
<line x1="46.00" y1="143.40" x2="136.40" y2="143.40" stroke="#555555" stroke-width="0.9"/>
<line x1="138.60" y1="143.40" x2="228.80" y2="143.40" stroke="#555555" stroke-width="0.9"/>
<line x1="44.80" y1="70.00" x2="46.10" y2="70.00" stroke="#000" stroke-width="1.2"/>
<text transform="translate(44.40,72.67) scale(1,1.04)" font-size="7.4" text-anchor="end" fill="#000" font-weight="bold" stroke="#000" stroke-width="0.15" >0</text>
<line x1="44.80" y1="50.83" x2="46.10" y2="50.83" stroke="#000" stroke-width="1.2"/>
<text transform="translate(44.40,53.50) scale(1,1.04)" font-size="7.4" text-anchor="end" fill="#000" font-weight="bold" stroke="#000" stroke-width="0.15" >1,000</text>
<line x1="44.80" y1="31.67" x2="46.10" y2="31.67" stroke="#000" stroke-width="1.2"/>
<text transform="translate(44.40,34.34) scale(1,1.04)" font-size="7.4" text-anchor="end" fill="#000" font-weight="bold" stroke="#000" stroke-width="0.15" >2,000</text>
<line x1="44.80" y1="12.50" x2="46.10" y2="12.50" stroke="#000" stroke-width="1.2"/>
<text transform="translate(44.40,15.17) scale(1,1.04)" font-size="7.4" text-anchor="end" fill="#000" font-weight="bold" stroke="#000" stroke-width="0.15" >3,000</text>
<line x1="44.80" y1="142.70" x2="46.10" y2="142.70" stroke="#000" stroke-width="1.2"/>
<text transform="translate(44.40,145.37) scale(1,1.04)" font-size="7.4" text-anchor="end" fill="#000" font-weight="bold" stroke="#000" stroke-width="0.15" >0</text>
<line x1="44.80" y1="123.47" x2="46.10" y2="123.47" stroke="#000" stroke-width="1.2"/>
<text transform="translate(44.40,126.14) scale(1,1.04)" font-size="7.4" text-anchor="end" fill="#000" font-weight="bold" stroke="#000" stroke-width="0.15" >1,000</text>
<line x1="44.80" y1="104.23" x2="46.10" y2="104.23" stroke="#000" stroke-width="1.2"/>
<text transform="translate(44.40,106.90) scale(1,1.04)" font-size="7.4" text-anchor="end" fill="#000" font-weight="bold" stroke="#000" stroke-width="0.15" >2,000</text>
<line x1="44.80" y1="85.00" x2="46.10" y2="85.00" stroke="#000" stroke-width="1.2"/>
<text transform="translate(44.40,87.67) scale(1,1.04)" font-size="7.4" text-anchor="end" fill="#000" font-weight="bold" stroke="#000" stroke-width="0.15" >3,000</text>
<line x1="49.90" y1="143.60" x2="49.90" y2="144.90" stroke="#000" stroke-width="1.2"/>
<text x="49.90" y="151.00" font-size="7.2" text-anchor="middle" fill="#000" font-weight="bold" stroke="#000" stroke-width="0.15" >0</text>
<line x1="66.40" y1="143.60" x2="66.40" y2="144.90" stroke="#000" stroke-width="1.2"/>
<text x="66.40" y="151.00" font-size="7.2" text-anchor="middle" fill="#000" font-weight="bold" stroke="#000" stroke-width="0.15" >10</text>
<line x1="82.90" y1="143.60" x2="82.90" y2="144.90" stroke="#000" stroke-width="1.2"/>
<text x="82.90" y="151.00" font-size="7.2" text-anchor="middle" fill="#000" font-weight="bold" stroke="#000" stroke-width="0.15" >20</text>
<line x1="99.40" y1="143.60" x2="99.40" y2="144.90" stroke="#000" stroke-width="1.2"/>
<text x="99.40" y="151.00" font-size="7.2" text-anchor="middle" fill="#000" font-weight="bold" stroke="#000" stroke-width="0.15" >30</text>
<line x1="115.90" y1="143.60" x2="115.90" y2="144.90" stroke="#000" stroke-width="1.2"/>
<text x="115.90" y="151.00" font-size="7.2" text-anchor="middle" fill="#000" font-weight="bold" stroke="#000" stroke-width="0.15" >40</text>
<line x1="132.40" y1="143.60" x2="132.40" y2="144.90" stroke="#000" stroke-width="1.2"/>
<text x="132.40" y="151.00" font-size="7.2" text-anchor="middle" fill="#000" font-weight="bold" stroke="#000" stroke-width="0.15" >50</text>
<line x1="142.30" y1="143.60" x2="142.30" y2="144.90" stroke="#000" stroke-width="1.2"/>
<text x="142.30" y="151.00" font-size="7.2" text-anchor="middle" fill="#000" font-weight="bold" stroke="#000" stroke-width="0.15" >0</text>
<line x1="158.80" y1="143.60" x2="158.80" y2="144.90" stroke="#000" stroke-width="1.2"/>
<text x="158.80" y="151.00" font-size="7.2" text-anchor="middle" fill="#000" font-weight="bold" stroke="#000" stroke-width="0.15" >10</text>
<line x1="175.30" y1="143.60" x2="175.30" y2="144.90" stroke="#000" stroke-width="1.2"/>
<text x="175.30" y="151.00" font-size="7.2" text-anchor="middle" fill="#000" font-weight="bold" stroke="#000" stroke-width="0.15" >20</text>
<line x1="191.80" y1="143.60" x2="191.80" y2="144.90" stroke="#000" stroke-width="1.2"/>
<text x="191.80" y="151.00" font-size="7.2" text-anchor="middle" fill="#000" font-weight="bold" stroke="#000" stroke-width="0.15" >30</text>
<line x1="208.30" y1="143.60" x2="208.30" y2="144.90" stroke="#000" stroke-width="1.2"/>
<text x="208.30" y="151.00" font-size="7.2" text-anchor="middle" fill="#000" font-weight="bold" stroke="#000" stroke-width="0.15" >40</text>
<line x1="224.80" y1="143.60" x2="224.80" y2="144.90" stroke="#000" stroke-width="1.2"/>
<text x="224.80" y="151.00" font-size="7.2" text-anchor="middle" fill="#000" font-weight="bold" stroke="#000" stroke-width="0.15" >50</text>
<line x1="45.60" y1="210.30" x2="45.60" y2="348.50" stroke="#555555" stroke-width="0.9"/>
<line x1="45.50" y1="348.50" x2="138.90" y2="348.50" stroke="#555555" stroke-width="0.9"/>
<line x1="141.00" y1="348.50" x2="234.60" y2="348.50" stroke="#555555" stroke-width="0.9"/>
<line x1="44.10" y1="273.70" x2="45.40" y2="273.70" stroke="#000" stroke-width="1.2"/>
<text transform="translate(43.70,276.37) scale(1,1.04)" font-size="7.4" text-anchor="end" fill="#000" font-weight="bold" stroke="#000" stroke-width="0.15" >0</text>
<line x1="44.10" y1="253.63" x2="45.40" y2="253.63" stroke="#000" stroke-width="1.2"/>
<text transform="translate(43.70,256.30) scale(1,1.04)" font-size="7.4" text-anchor="end" fill="#000" font-weight="bold" stroke="#000" stroke-width="0.15" >1,000</text>
<line x1="44.10" y1="233.57" x2="45.40" y2="233.57" stroke="#000" stroke-width="1.2"/>
<text transform="translate(43.70,236.24) scale(1,1.04)" font-size="7.4" text-anchor="end" fill="#000" font-weight="bold" stroke="#000" stroke-width="0.15" >2,000</text>
<line x1="44.10" y1="213.50" x2="45.40" y2="213.50" stroke="#000" stroke-width="1.2"/>
<text transform="translate(43.70,216.17) scale(1,1.04)" font-size="7.4" text-anchor="end" fill="#000" font-weight="bold" stroke="#000" stroke-width="0.15" >3,000</text>
<line x1="44.10" y1="348.00" x2="45.40" y2="348.00" stroke="#000" stroke-width="1.2"/>
<text transform="translate(43.70,350.67) scale(1,1.04)" font-size="7.4" text-anchor="end" fill="#000" font-weight="bold" stroke="#000" stroke-width="0.15" >0</text>
<line x1="44.10" y1="328.00" x2="45.40" y2="328.00" stroke="#000" stroke-width="1.2"/>
<text transform="translate(43.70,330.67) scale(1,1.04)" font-size="7.4" text-anchor="end" fill="#000" font-weight="bold" stroke="#000" stroke-width="0.15" >1,000</text>
<line x1="44.10" y1="308.00" x2="45.40" y2="308.00" stroke="#000" stroke-width="1.2"/>
<text transform="translate(43.70,310.67) scale(1,1.04)" font-size="7.4" text-anchor="end" fill="#000" font-weight="bold" stroke="#000" stroke-width="0.15" >2,000</text>
<line x1="44.10" y1="288.00" x2="45.40" y2="288.00" stroke="#000" stroke-width="1.2"/>
<text transform="translate(43.70,290.67) scale(1,1.04)" font-size="7.4" text-anchor="end" fill="#000" font-weight="bold" stroke="#000" stroke-width="0.15" >3,000</text>
<line x1="49.60" y1="348.70" x2="49.60" y2="350.00" stroke="#000" stroke-width="1.2"/>
<text x="49.60" y="356.00" font-size="7.2" text-anchor="middle" fill="#000" font-weight="bold" stroke="#000" stroke-width="0.15" >0</text>
<line x1="66.60" y1="348.70" x2="66.60" y2="350.00" stroke="#000" stroke-width="1.2"/>
<text x="66.60" y="356.00" font-size="7.2" text-anchor="middle" fill="#000" font-weight="bold" stroke="#000" stroke-width="0.15" >10</text>
<line x1="83.60" y1="348.70" x2="83.60" y2="350.00" stroke="#000" stroke-width="1.2"/>
<text x="83.60" y="356.00" font-size="7.2" text-anchor="middle" fill="#000" font-weight="bold" stroke="#000" stroke-width="0.15" >20</text>
<line x1="100.60" y1="348.70" x2="100.60" y2="350.00" stroke="#000" stroke-width="1.2"/>
<text x="100.60" y="356.00" font-size="7.2" text-anchor="middle" fill="#000" font-weight="bold" stroke="#000" stroke-width="0.15" >30</text>
<line x1="117.60" y1="348.70" x2="117.60" y2="350.00" stroke="#000" stroke-width="1.2"/>
<text x="117.60" y="356.00" font-size="7.2" text-anchor="middle" fill="#000" font-weight="bold" stroke="#000" stroke-width="0.15" >40</text>
<line x1="134.60" y1="348.70" x2="134.60" y2="350.00" stroke="#000" stroke-width="1.2"/>
<text x="134.60" y="356.00" font-size="7.2" text-anchor="middle" fill="#000" font-weight="bold" stroke="#000" stroke-width="0.15" >50</text>
<line x1="145.50" y1="348.70" x2="145.50" y2="350.00" stroke="#000" stroke-width="1.2"/>
<text x="145.50" y="356.00" font-size="7.2" text-anchor="middle" fill="#000" font-weight="bold" stroke="#000" stroke-width="0.15" >0</text>
<line x1="162.50" y1="348.70" x2="162.50" y2="350.00" stroke="#000" stroke-width="1.2"/>
<text x="162.50" y="356.00" font-size="7.2" text-anchor="middle" fill="#000" font-weight="bold" stroke="#000" stroke-width="0.15" >10</text>
<line x1="179.50" y1="348.70" x2="179.50" y2="350.00" stroke="#000" stroke-width="1.2"/>
<text x="179.50" y="356.00" font-size="7.2" text-anchor="middle" fill="#000" font-weight="bold" stroke="#000" stroke-width="0.15" >20</text>
<line x1="196.50" y1="348.70" x2="196.50" y2="350.00" stroke="#000" stroke-width="1.2"/>
<text x="196.50" y="356.00" font-size="7.2" text-anchor="middle" fill="#000" font-weight="bold" stroke="#000" stroke-width="0.15" >30</text>
<line x1="213.50" y1="348.70" x2="213.50" y2="350.00" stroke="#000" stroke-width="1.2"/>
<text x="213.50" y="356.00" font-size="7.2" text-anchor="middle" fill="#000" font-weight="bold" stroke="#000" stroke-width="0.15" >40</text>
<line x1="230.50" y1="348.70" x2="230.50" y2="350.00" stroke="#000" stroke-width="1.2"/>
<text x="230.50" y="356.00" font-size="7.2" text-anchor="middle" fill="#000" font-weight="bold" stroke="#000" stroke-width="0.15" >50</text>
<text x="137.50" y="164.50" font-size="10.4" text-anchor="middle" fill="#000" font-weight="bold" stroke="#000" stroke-width="0.25" >Day</text>
<text x="139.75" y="369.50" font-size="10.9" text-anchor="middle" fill="#000" font-weight="bold" stroke="#000" stroke-width="0.25" >Day</text>
<text transform="translate(22.1,76.4) rotate(-90)" x="0" y="0" font-size="9.8" text-anchor="middle" fill="#000" stroke="#000" stroke-width="0.2" font-weight="bold">TV</text>
<text transform="translate(20.6,279.3) rotate(-90)" x="0" y="0" font-size="10.2" text-anchor="middle" fill="#000" stroke="#000" stroke-width="0.2" font-weight="bold">TV</text>
<text transform="translate(12.95,17.30) scale(0.919,1)" x="0" y="0" font-size="22.90" text-anchor="middle" fill="#000" stroke="#000" stroke-width="0.65" font-weight="bold">A</text>
<text transform="translate(285.10,16.00) scale(0.865,1)" x="0" y="0" font-size="22.75" text-anchor="middle" fill="#000" stroke="#000" stroke-width="0.00" font-weight="bold">B</text>
<text transform="translate(13.35,220.15) scale(0.798,1)" x="0" y="0" font-size="22.96" text-anchor="middle" fill="#000" stroke="#000" stroke-width="0.63" font-weight="bold">C</text>
<text transform="translate(289.80,221.10) scale(0.960,1)" x="0" y="0" font-size="23.04" text-anchor="middle" fill="#000" stroke="#000" stroke-width="0.21" font-weight="bold">D</text>
<rect x="311.20" y="3.60" width="66.60" height="12.20" fill="#EBEBEB"/>
<text x="344.50" y="12.80" font-size="8.2" text-anchor="middle" fill="#000" font-weight="bold" stroke="#000" stroke-width="0.15" >T(obs)=30 days</text>
<line x1="314.30" y1="15.80" x2="314.30" y2="146.30" stroke="#F3F3F3" stroke-width="0.8"/>
<line x1="329.30" y1="15.80" x2="329.30" y2="146.30" stroke="#F3F3F3" stroke-width="0.8"/>
<line x1="344.30" y1="15.80" x2="344.30" y2="146.30" stroke="#F3F3F3" stroke-width="0.8"/>
<line x1="359.30" y1="15.80" x2="359.30" y2="146.30" stroke="#F3F3F3" stroke-width="0.8"/>
<line x1="374.30" y1="15.80" x2="374.30" y2="146.30" stroke="#F3F3F3" stroke-width="0.8"/>
<line x1="311.20" y1="136.80" x2="377.80" y2="136.80" stroke="#F3F3F3" stroke-width="0.8"/>
<line x1="311.20" y1="114.84" x2="377.80" y2="114.84" stroke="#F3F3F3" stroke-width="0.8"/>
<line x1="311.20" y1="92.88" x2="377.80" y2="92.88" stroke="#F3F3F3" stroke-width="0.8"/>
<line x1="311.20" y1="70.92" x2="377.80" y2="70.92" stroke="#F3F3F3" stroke-width="0.8"/>
<line x1="311.20" y1="48.96" x2="377.80" y2="48.96" stroke="#F3F3F3" stroke-width="0.8"/>
<line x1="311.20" y1="27.00" x2="377.80" y2="27.00" stroke="#F3F3F3" stroke-width="0.8"/>
<polygon points="314.30,48.96 344.30,40.18 374.30,22.61 374.30,59.94 344.30,64.88 314.30,84.65" fill="#999999" fill-opacity="0.4"/>
<polyline points="314.30,67.63 344.30,52.25 374.30,40.73" fill="none" stroke="#3366FF" stroke-width="1.25"/>
<line x1="311.20" y1="146.30" x2="377.80" y2="146.30" stroke="#555555" stroke-width="0.9"/>
<line x1="314.30" y1="146.50" x2="314.30" y2="147.80" stroke="#000" stroke-width="1.2"/>
<text transform="translate(314.30,154.90) scale(1,1.1)" font-size="8.0" text-anchor="middle" fill="#000" font-weight="bold" stroke="#000" stroke-width="0.15" >2</text>
<line x1="329.30" y1="146.50" x2="329.30" y2="147.80" stroke="#000" stroke-width="1.2"/>
<text transform="translate(329.30,154.90) scale(1,1.1)" font-size="8.0" text-anchor="middle" fill="#000" font-weight="bold" stroke="#000" stroke-width="0.15" >4</text>
<line x1="344.30" y1="146.50" x2="344.30" y2="147.80" stroke="#000" stroke-width="1.2"/>
<text transform="translate(344.30,154.90) scale(1,1.1)" font-size="8.0" text-anchor="middle" fill="#000" font-weight="bold" stroke="#000" stroke-width="0.15" >6</text>
<line x1="359.30" y1="146.50" x2="359.30" y2="147.80" stroke="#000" stroke-width="1.2"/>
<text transform="translate(359.30,154.90) scale(1,1.1)" font-size="8.0" text-anchor="middle" fill="#000" font-weight="bold" stroke="#000" stroke-width="0.15" >8</text>
<line x1="374.30" y1="146.50" x2="374.30" y2="147.80" stroke="#000" stroke-width="1.2"/>
<text transform="translate(374.30,154.90) scale(1,1.1)" font-size="8.0" text-anchor="middle" fill="#000" font-weight="bold" stroke="#000" stroke-width="0.15" >10</text>
<rect x="380.80" y="3.60" width="66.50" height="12.20" fill="#EBEBEB"/>
<text x="414.05" y="12.80" font-size="8.2" text-anchor="middle" fill="#000" font-weight="bold" stroke="#000" stroke-width="0.15" >T(obs)=40 days</text>
<line x1="383.90" y1="15.80" x2="383.90" y2="146.30" stroke="#F3F3F3" stroke-width="0.8"/>
<line x1="398.95" y1="15.80" x2="398.95" y2="146.30" stroke="#F3F3F3" stroke-width="0.8"/>
<line x1="414.00" y1="15.80" x2="414.00" y2="146.30" stroke="#F3F3F3" stroke-width="0.8"/>
<line x1="429.05" y1="15.80" x2="429.05" y2="146.30" stroke="#F3F3F3" stroke-width="0.8"/>
<line x1="444.10" y1="15.80" x2="444.10" y2="146.30" stroke="#F3F3F3" stroke-width="0.8"/>
<line x1="380.80" y1="136.80" x2="447.30" y2="136.80" stroke="#F3F3F3" stroke-width="0.8"/>
<line x1="380.80" y1="114.84" x2="447.30" y2="114.84" stroke="#F3F3F3" stroke-width="0.8"/>
<line x1="380.80" y1="92.88" x2="447.30" y2="92.88" stroke="#F3F3F3" stroke-width="0.8"/>
<line x1="380.80" y1="70.92" x2="447.30" y2="70.92" stroke="#F3F3F3" stroke-width="0.8"/>
<line x1="380.80" y1="48.96" x2="447.30" y2="48.96" stroke="#F3F3F3" stroke-width="0.8"/>
<line x1="380.80" y1="27.00" x2="447.30" y2="27.00" stroke="#F3F3F3" stroke-width="0.8"/>
<polygon points="383.90,93.98 414.00,106.06 444.10,101.66 444.10,117.04 414.00,117.04 383.90,112.64" fill="#999999" fill-opacity="0.4"/>
<polyline points="383.90,102.21 414.00,111.77 444.10,109.57" fill="none" stroke="#3366FF" stroke-width="1.25"/>
<line x1="380.80" y1="146.30" x2="447.30" y2="146.30" stroke="#555555" stroke-width="0.9"/>
<line x1="383.90" y1="146.50" x2="383.90" y2="147.80" stroke="#000" stroke-width="1.2"/>
<text transform="translate(383.90,154.90) scale(1,1.1)" font-size="8.0" text-anchor="middle" fill="#000" font-weight="bold" stroke="#000" stroke-width="0.15" >2</text>
<line x1="398.95" y1="146.50" x2="398.95" y2="147.80" stroke="#000" stroke-width="1.2"/>
<text transform="translate(398.95,154.90) scale(1,1.1)" font-size="8.0" text-anchor="middle" fill="#000" font-weight="bold" stroke="#000" stroke-width="0.15" >4</text>
<line x1="414.00" y1="146.50" x2="414.00" y2="147.80" stroke="#000" stroke-width="1.2"/>
<text transform="translate(414.00,154.90) scale(1,1.1)" font-size="8.0" text-anchor="middle" fill="#000" font-weight="bold" stroke="#000" stroke-width="0.15" >6</text>
<line x1="429.05" y1="146.50" x2="429.05" y2="147.80" stroke="#000" stroke-width="1.2"/>
<text transform="translate(429.05,154.90) scale(1,1.1)" font-size="8.0" text-anchor="middle" fill="#000" font-weight="bold" stroke="#000" stroke-width="0.15" >8</text>
<line x1="444.10" y1="146.50" x2="444.10" y2="147.80" stroke="#000" stroke-width="1.2"/>
<text transform="translate(444.10,154.90) scale(1,1.1)" font-size="8.0" text-anchor="middle" fill="#000" font-weight="bold" stroke="#000" stroke-width="0.15" >10</text>
<rect x="450.80" y="3.60" width="66.30" height="12.20" fill="#EBEBEB"/>
<text x="483.95" y="12.80" font-size="8.2" text-anchor="middle" fill="#000" font-weight="bold" stroke="#000" stroke-width="0.15" >T(obs)=50 days</text>
<line x1="453.80" y1="15.80" x2="453.80" y2="146.30" stroke="#F3F3F3" stroke-width="0.8"/>
<line x1="468.75" y1="15.80" x2="468.75" y2="146.30" stroke="#F3F3F3" stroke-width="0.8"/>
<line x1="483.70" y1="15.80" x2="483.70" y2="146.30" stroke="#F3F3F3" stroke-width="0.8"/>
<line x1="498.65" y1="15.80" x2="498.65" y2="146.30" stroke="#F3F3F3" stroke-width="0.8"/>
<line x1="513.60" y1="15.80" x2="513.60" y2="146.30" stroke="#F3F3F3" stroke-width="0.8"/>
<line x1="450.80" y1="136.80" x2="517.10" y2="136.80" stroke="#F3F3F3" stroke-width="0.8"/>
<line x1="450.80" y1="114.84" x2="517.10" y2="114.84" stroke="#F3F3F3" stroke-width="0.8"/>
<line x1="450.80" y1="92.88" x2="517.10" y2="92.88" stroke="#F3F3F3" stroke-width="0.8"/>
<line x1="450.80" y1="70.92" x2="517.10" y2="70.92" stroke="#F3F3F3" stroke-width="0.8"/>
<line x1="450.80" y1="48.96" x2="517.10" y2="48.96" stroke="#F3F3F3" stroke-width="0.8"/>
<line x1="450.80" y1="27.00" x2="517.10" y2="27.00" stroke="#F3F3F3" stroke-width="0.8"/>
<polygon points="453.80,125.82 483.70,131.64 513.60,131.64 513.60,139.87 483.70,136.80 453.80,134.60" fill="#999999" fill-opacity="0.4"/>
<polyline points="453.80,130.21 483.70,134.60 513.60,135.48" fill="none" stroke="#3366FF" stroke-width="1.25"/>
<line x1="450.80" y1="146.30" x2="517.10" y2="146.30" stroke="#555555" stroke-width="0.9"/>
<line x1="453.80" y1="146.50" x2="453.80" y2="147.80" stroke="#000" stroke-width="1.2"/>
<text transform="translate(453.80,154.90) scale(1,1.1)" font-size="8.0" text-anchor="middle" fill="#000" font-weight="bold" stroke="#000" stroke-width="0.15" >2</text>
<line x1="468.75" y1="146.50" x2="468.75" y2="147.80" stroke="#000" stroke-width="1.2"/>
<text transform="translate(468.75,154.90) scale(1,1.1)" font-size="8.0" text-anchor="middle" fill="#000" font-weight="bold" stroke="#000" stroke-width="0.15" >4</text>
<line x1="483.70" y1="146.50" x2="483.70" y2="147.80" stroke="#000" stroke-width="1.2"/>
<text transform="translate(483.70,154.90) scale(1,1.1)" font-size="8.0" text-anchor="middle" fill="#000" font-weight="bold" stroke="#000" stroke-width="0.15" >6</text>
<line x1="498.65" y1="146.50" x2="498.65" y2="147.80" stroke="#000" stroke-width="1.2"/>
<text transform="translate(498.65,154.90) scale(1,1.1)" font-size="8.0" text-anchor="middle" fill="#000" font-weight="bold" stroke="#000" stroke-width="0.15" >8</text>
<line x1="513.60" y1="146.50" x2="513.60" y2="147.80" stroke="#000" stroke-width="1.2"/>
<text transform="translate(513.60,154.90) scale(1,1.1)" font-size="8.0" text-anchor="middle" fill="#000" font-weight="bold" stroke="#000" stroke-width="0.15" >10</text>
<line x1="311.20" y1="15.80" x2="311.20" y2="146.30" stroke="#555555" stroke-width="0.9"/>
<line x1="309.70" y1="136.80" x2="311.00" y2="136.80" stroke="#000" stroke-width="1.2"/>
<text transform="translate(308.20,139.53) scale(1,1.1)" font-size="8.0" text-anchor="end" fill="#000" font-weight="bold" stroke="#000" stroke-width="0.15" >0.0</text>
<line x1="309.70" y1="114.84" x2="311.00" y2="114.84" stroke="#000" stroke-width="1.2"/>
<text transform="translate(308.20,117.57) scale(1,1.1)" font-size="8.0" text-anchor="end" fill="#000" font-weight="bold" stroke="#000" stroke-width="0.15" >0.2</text>
<line x1="309.70" y1="92.88" x2="311.00" y2="92.88" stroke="#000" stroke-width="1.2"/>
<text transform="translate(308.20,95.61) scale(1,1.1)" font-size="8.0" text-anchor="end" fill="#000" font-weight="bold" stroke="#000" stroke-width="0.15" >0.4</text>
<line x1="309.70" y1="70.92" x2="311.00" y2="70.92" stroke="#000" stroke-width="1.2"/>
<text transform="translate(308.20,73.65) scale(1,1.1)" font-size="8.0" text-anchor="end" fill="#000" font-weight="bold" stroke="#000" stroke-width="0.15" >0.6</text>
<line x1="309.70" y1="48.96" x2="311.00" y2="48.96" stroke="#000" stroke-width="1.2"/>
<text transform="translate(308.20,51.69) scale(1,1.1)" font-size="8.0" text-anchor="end" fill="#000" font-weight="bold" stroke="#000" stroke-width="0.15" >0.8</text>
<line x1="309.70" y1="27.00" x2="311.00" y2="27.00" stroke="#000" stroke-width="1.2"/>
<text transform="translate(308.20,29.73) scale(1,1.1)" font-size="8.0" text-anchor="end" fill="#000" font-weight="bold" stroke="#000" stroke-width="0.15" >1.0</text>
<text transform="translate(414.00,169.80) scale(1,1.2)" font-size="10.4" text-anchor="middle" fill="#000" font-weight="bold" stroke="#000" stroke-width="0.25" >n</text>
<text transform="translate(290.80,80.80) rotate(-90) scale(0.97,1)" x="0" y="0" font-size="12" text-anchor="middle" fill="#000" stroke="#000" stroke-width="0.15" font-weight="bold">Empirical power</text>
<rect x="311.90" y="207.30" width="66.50" height="11.70" fill="#EBEBEB"/>
<text x="345.15" y="216.30" font-size="8.2" text-anchor="middle" fill="#000" font-weight="bold" stroke="#000" stroke-width="0.15" >T(obs)=30 days</text>
<line x1="314.30" y1="219.00" x2="314.30" y2="349.60" stroke="#F3F3F3" stroke-width="0.8"/>
<line x1="329.48" y1="219.00" x2="329.48" y2="349.60" stroke="#F3F3F3" stroke-width="0.8"/>
<line x1="344.65" y1="219.00" x2="344.65" y2="349.60" stroke="#F3F3F3" stroke-width="0.8"/>
<line x1="359.82" y1="219.00" x2="359.82" y2="349.60" stroke="#F3F3F3" stroke-width="0.8"/>
<line x1="375.00" y1="219.00" x2="375.00" y2="349.60" stroke="#F3F3F3" stroke-width="0.8"/>
<line x1="311.90" y1="349.10" x2="378.40" y2="349.10" stroke="#F3F3F3" stroke-width="0.8"/>
<line x1="311.90" y1="321.94" x2="378.40" y2="321.94" stroke="#F3F3F3" stroke-width="0.8"/>
<line x1="311.90" y1="294.78" x2="378.40" y2="294.78" stroke="#F3F3F3" stroke-width="0.8"/>
<line x1="311.90" y1="267.62" x2="378.40" y2="267.62" stroke="#F3F3F3" stroke-width="0.8"/>
<line x1="311.90" y1="240.46" x2="378.40" y2="240.46" stroke="#F3F3F3" stroke-width="0.8"/>
<polygon points="314.30,256.48 344.65,245.21 375.00,224.71 375.00,254.58 344.65,268.03 314.30,286.90" fill="#999999" fill-opacity="0.4"/>
<polyline points="314.30,271.42 344.65,256.76 375.00,239.65" fill="none" stroke="#3366FF" stroke-width="1.25"/>
<line x1="311.90" y1="349.90" x2="378.40" y2="349.90" stroke="#555555" stroke-width="0.9"/>
<line x1="314.30" y1="350.10" x2="314.30" y2="351.40" stroke="#000" stroke-width="1.2"/>
<text transform="translate(314.30,358.70) scale(1,1.1)" font-size="8.0" text-anchor="middle" fill="#000" font-weight="bold" stroke="#000" stroke-width="0.15" >2</text>
<line x1="329.48" y1="350.10" x2="329.48" y2="351.40" stroke="#000" stroke-width="1.2"/>
<text transform="translate(329.48,358.70) scale(1,1.1)" font-size="8.0" text-anchor="middle" fill="#000" font-weight="bold" stroke="#000" stroke-width="0.15" >4</text>
<line x1="344.65" y1="350.10" x2="344.65" y2="351.40" stroke="#000" stroke-width="1.2"/>
<text transform="translate(344.65,358.70) scale(1,1.1)" font-size="8.0" text-anchor="middle" fill="#000" font-weight="bold" stroke="#000" stroke-width="0.15" >6</text>
<line x1="359.82" y1="350.10" x2="359.82" y2="351.40" stroke="#000" stroke-width="1.2"/>
<text transform="translate(359.82,358.70) scale(1,1.1)" font-size="8.0" text-anchor="middle" fill="#000" font-weight="bold" stroke="#000" stroke-width="0.15" >8</text>
<line x1="375.00" y1="350.10" x2="375.00" y2="351.40" stroke="#000" stroke-width="1.2"/>
<text transform="translate(375.00,358.70) scale(1,1.1)" font-size="8.0" text-anchor="middle" fill="#000" font-weight="bold" stroke="#000" stroke-width="0.15" >10</text>
<rect x="381.50" y="207.30" width="67.00" height="11.70" fill="#EBEBEB"/>
<text x="415.00" y="216.30" font-size="8.2" text-anchor="middle" fill="#000" font-weight="bold" stroke="#000" stroke-width="0.15" >T(obs)=40 days</text>
<line x1="384.40" y1="219.00" x2="384.40" y2="349.60" stroke="#F3F3F3" stroke-width="0.8"/>
<line x1="399.55" y1="219.00" x2="399.55" y2="349.60" stroke="#F3F3F3" stroke-width="0.8"/>
<line x1="414.70" y1="219.00" x2="414.70" y2="349.60" stroke="#F3F3F3" stroke-width="0.8"/>
<line x1="429.85" y1="219.00" x2="429.85" y2="349.60" stroke="#F3F3F3" stroke-width="0.8"/>
<line x1="445.00" y1="219.00" x2="445.00" y2="349.60" stroke="#F3F3F3" stroke-width="0.8"/>
<line x1="381.50" y1="349.10" x2="448.50" y2="349.10" stroke="#F3F3F3" stroke-width="0.8"/>
<line x1="381.50" y1="321.94" x2="448.50" y2="321.94" stroke="#F3F3F3" stroke-width="0.8"/>
<line x1="381.50" y1="294.78" x2="448.50" y2="294.78" stroke="#F3F3F3" stroke-width="0.8"/>
<line x1="381.50" y1="267.62" x2="448.50" y2="267.62" stroke="#F3F3F3" stroke-width="0.8"/>
<line x1="381.50" y1="240.46" x2="448.50" y2="240.46" stroke="#F3F3F3" stroke-width="0.8"/>
<polygon points="384.40,279.43 414.70,274.41 445.00,260.02 445.00,308.90 414.70,310.53 384.40,328.73" fill="#999999" fill-opacity="0.4"/>
<polyline points="384.40,304.69 414.70,292.47 445.00,284.32" fill="none" stroke="#3366FF" stroke-width="1.25"/>
<line x1="381.50" y1="349.90" x2="448.50" y2="349.90" stroke="#555555" stroke-width="0.9"/>
<line x1="384.40" y1="350.10" x2="384.40" y2="351.40" stroke="#000" stroke-width="1.2"/>
<text transform="translate(384.40,358.70) scale(1,1.1)" font-size="8.0" text-anchor="middle" fill="#000" font-weight="bold" stroke="#000" stroke-width="0.15" >2</text>
<line x1="399.55" y1="350.10" x2="399.55" y2="351.40" stroke="#000" stroke-width="1.2"/>
<text transform="translate(399.55,358.70) scale(1,1.1)" font-size="8.0" text-anchor="middle" fill="#000" font-weight="bold" stroke="#000" stroke-width="0.15" >4</text>
<line x1="414.70" y1="350.10" x2="414.70" y2="351.40" stroke="#000" stroke-width="1.2"/>
<text transform="translate(414.70,358.70) scale(1,1.1)" font-size="8.0" text-anchor="middle" fill="#000" font-weight="bold" stroke="#000" stroke-width="0.15" >6</text>
<line x1="429.85" y1="350.10" x2="429.85" y2="351.40" stroke="#000" stroke-width="1.2"/>
<text transform="translate(429.85,358.70) scale(1,1.1)" font-size="8.0" text-anchor="middle" fill="#000" font-weight="bold" stroke="#000" stroke-width="0.15" >8</text>
<line x1="445.00" y1="350.10" x2="445.00" y2="351.40" stroke="#000" stroke-width="1.2"/>
<text transform="translate(445.00,358.70) scale(1,1.1)" font-size="8.0" text-anchor="middle" fill="#000" font-weight="bold" stroke="#000" stroke-width="0.15" >10</text>
<rect x="452.20" y="207.30" width="66.40" height="11.70" fill="#EBEBEB"/>
<text x="485.40" y="216.30" font-size="8.2" text-anchor="middle" fill="#000" font-weight="bold" stroke="#000" stroke-width="0.15" >T(obs)=60 days</text>
<line x1="454.60" y1="219.00" x2="454.60" y2="349.60" stroke="#F3F3F3" stroke-width="0.8"/>
<line x1="469.83" y1="219.00" x2="469.83" y2="349.60" stroke="#F3F3F3" stroke-width="0.8"/>
<line x1="485.05" y1="219.00" x2="485.05" y2="349.60" stroke="#F3F3F3" stroke-width="0.8"/>
<line x1="500.27" y1="219.00" x2="500.27" y2="349.60" stroke="#F3F3F3" stroke-width="0.8"/>
<line x1="515.50" y1="219.00" x2="515.50" y2="349.60" stroke="#F3F3F3" stroke-width="0.8"/>
<line x1="452.20" y1="349.10" x2="518.60" y2="349.10" stroke="#F3F3F3" stroke-width="0.8"/>
<line x1="452.20" y1="321.94" x2="518.60" y2="321.94" stroke="#F3F3F3" stroke-width="0.8"/>
<line x1="452.20" y1="294.78" x2="518.60" y2="294.78" stroke="#F3F3F3" stroke-width="0.8"/>
<line x1="452.20" y1="267.62" x2="518.60" y2="267.62" stroke="#F3F3F3" stroke-width="0.8"/>
<line x1="452.20" y1="240.46" x2="518.60" y2="240.46" stroke="#F3F3F3" stroke-width="0.8"/>
<polygon points="454.60,296.14 485.05,312.84 515.50,320.04 515.50,343.12 485.05,328.73 454.60,316.24" fill="#999999" fill-opacity="0.4"/>
<polyline points="454.60,307.82 485.05,320.85 515.50,331.58" fill="none" stroke="#3366FF" stroke-width="1.25"/>
<line x1="452.20" y1="349.90" x2="518.60" y2="349.90" stroke="#555555" stroke-width="0.9"/>
<line x1="454.60" y1="350.10" x2="454.60" y2="351.40" stroke="#000" stroke-width="1.2"/>
<text transform="translate(454.60,358.70) scale(1,1.1)" font-size="8.0" text-anchor="middle" fill="#000" font-weight="bold" stroke="#000" stroke-width="0.15" >2</text>
<line x1="469.83" y1="350.10" x2="469.83" y2="351.40" stroke="#000" stroke-width="1.2"/>
<text transform="translate(469.83,358.70) scale(1,1.1)" font-size="8.0" text-anchor="middle" fill="#000" font-weight="bold" stroke="#000" stroke-width="0.15" >4</text>
<line x1="485.05" y1="350.10" x2="485.05" y2="351.40" stroke="#000" stroke-width="1.2"/>
<text transform="translate(485.05,358.70) scale(1,1.1)" font-size="8.0" text-anchor="middle" fill="#000" font-weight="bold" stroke="#000" stroke-width="0.15" >6</text>
<line x1="500.27" y1="350.10" x2="500.27" y2="351.40" stroke="#000" stroke-width="1.2"/>
<text transform="translate(500.27,358.70) scale(1,1.1)" font-size="8.0" text-anchor="middle" fill="#000" font-weight="bold" stroke="#000" stroke-width="0.15" >8</text>
<line x1="515.50" y1="350.10" x2="515.50" y2="351.40" stroke="#000" stroke-width="1.2"/>
<text transform="translate(515.50,358.70) scale(1,1.1)" font-size="8.0" text-anchor="middle" fill="#000" font-weight="bold" stroke="#000" stroke-width="0.15" >10</text>
<line x1="311.60" y1="219.00" x2="311.60" y2="349.90" stroke="#555555" stroke-width="0.9"/>
<line x1="310.10" y1="349.10" x2="311.40" y2="349.10" stroke="#000" stroke-width="1.2"/>
<text transform="translate(308.60,351.83) scale(1,1.1)" font-size="8.0" text-anchor="end" fill="#000" font-weight="bold" stroke="#000" stroke-width="0.15" >0.0</text>
<line x1="310.10" y1="321.94" x2="311.40" y2="321.94" stroke="#000" stroke-width="1.2"/>
<text transform="translate(308.60,324.67) scale(1,1.1)" font-size="8.0" text-anchor="end" fill="#000" font-weight="bold" stroke="#000" stroke-width="0.15" >0.2</text>
<line x1="310.10" y1="294.78" x2="311.40" y2="294.78" stroke="#000" stroke-width="1.2"/>
<text transform="translate(308.60,297.51) scale(1,1.1)" font-size="8.0" text-anchor="end" fill="#000" font-weight="bold" stroke="#000" stroke-width="0.15" >0.4</text>
<line x1="310.10" y1="267.62" x2="311.40" y2="267.62" stroke="#000" stroke-width="1.2"/>
<text transform="translate(308.60,270.35) scale(1,1.1)" font-size="8.0" text-anchor="end" fill="#000" font-weight="bold" stroke="#000" stroke-width="0.15" >0.6</text>
<line x1="310.10" y1="240.46" x2="311.40" y2="240.46" stroke="#000" stroke-width="1.2"/>
<text transform="translate(308.60,243.19) scale(1,1.1)" font-size="8.0" text-anchor="end" fill="#000" font-weight="bold" stroke="#000" stroke-width="0.15" >0.8</text>
<text transform="translate(414.90,373.90) scale(1,1.2)" font-size="10.4" text-anchor="middle" fill="#000" font-weight="bold" stroke="#000" stroke-width="0.25" >n</text>
<text transform="translate(290.80,284.00) rotate(-90) scale(0.97,1)" x="0" y="0" font-size="12" text-anchor="middle" fill="#000" stroke="#000" stroke-width="0.15" font-weight="bold">Empirical power</text>
</svg></body></html>
